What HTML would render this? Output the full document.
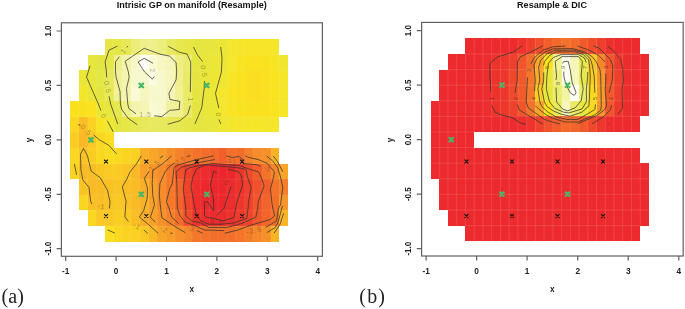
<!DOCTYPE html>
<html><head><meta charset="utf-8"><title>Figure</title>
<style>html,body{margin:0;padding:0;background:#fff}svg{display:block;filter:blur(0.4px)}</style></head>
<body>
<svg width="685" height="309" viewBox="0 0 685 309" font-family="Liberation Sans, sans-serif">
<rect width="685" height="309" fill="#fff"/>
<g shape-rendering="crispEdges"><rect x="104.98" y="39.00" width="8.72" height="15.58" fill="#e6e646"/>
<rect x="113.70" y="39.00" width="8.72" height="15.58" fill="#e6e646"/>
<rect x="122.42" y="39.00" width="8.72" height="15.58" fill="#e8e855"/>
<rect x="131.14" y="39.00" width="8.72" height="15.58" fill="#ecec78"/>
<rect x="139.86" y="39.00" width="8.72" height="15.58" fill="#efef8c"/>
<rect x="148.58" y="39.00" width="8.72" height="15.58" fill="#efef8c"/>
<rect x="157.30" y="39.00" width="8.72" height="15.58" fill="#eded7d"/>
<rect x="166.02" y="39.00" width="8.72" height="15.58" fill="#e9e961"/>
<rect x="174.74" y="39.00" width="8.72" height="15.58" fill="#e7e750"/>
<rect x="183.46" y="39.00" width="8.72" height="15.58" fill="#e6e646"/>
<rect x="192.18" y="39.00" width="8.72" height="15.58" fill="#e5e542"/>
<rect x="200.90" y="39.00" width="8.72" height="15.58" fill="#e6e63e"/>
<rect x="209.62" y="39.00" width="8.72" height="15.58" fill="#e8e63a"/>
<rect x="218.34" y="39.00" width="8.72" height="15.58" fill="#ece634"/>
<rect x="227.06" y="39.00" width="8.72" height="15.58" fill="#f2e62e"/>
<rect x="235.78" y="39.00" width="8.72" height="15.58" fill="#f6e629"/>
<rect x="244.50" y="39.00" width="8.72" height="15.58" fill="#f7e528"/>
<rect x="253.22" y="39.00" width="8.72" height="15.58" fill="#f7e528"/>
<rect x="261.94" y="39.00" width="8.72" height="15.58" fill="#f7e528"/>
<rect x="270.66" y="39.00" width="8.72" height="15.58" fill="#f6e629"/>
<rect x="87.54" y="54.58" width="8.72" height="15.58" fill="#e7e63c"/>
<rect x="96.26" y="54.58" width="8.72" height="15.58" fill="#e5e541"/>
<rect x="104.98" y="54.58" width="8.72" height="15.58" fill="#e6e64b"/>
<rect x="113.70" y="54.58" width="8.72" height="15.58" fill="#efef8c"/>
<rect x="122.42" y="54.58" width="8.72" height="15.58" fill="#f3f3aa"/>
<rect x="131.14" y="54.58" width="8.72" height="15.58" fill="#f7f7c8"/>
<rect x="139.86" y="54.58" width="8.72" height="15.58" fill="#fefef8"/>
<rect x="148.58" y="54.58" width="8.72" height="15.58" fill="#f9f9d4"/>
<rect x="157.30" y="54.58" width="8.72" height="15.58" fill="#f7f7c3"/>
<rect x="166.02" y="54.58" width="8.72" height="15.58" fill="#f5f5b9"/>
<rect x="174.74" y="54.58" width="8.72" height="15.58" fill="#eeee82"/>
<rect x="183.46" y="54.58" width="8.72" height="15.58" fill="#ebeb6e"/>
<rect x="192.18" y="54.58" width="8.72" height="15.58" fill="#e5e542"/>
<rect x="200.90" y="54.58" width="8.72" height="15.58" fill="#e8e63a"/>
<rect x="209.62" y="54.58" width="8.72" height="15.58" fill="#ece634"/>
<rect x="218.34" y="54.58" width="8.72" height="15.58" fill="#ece634"/>
<rect x="227.06" y="54.58" width="8.72" height="15.58" fill="#f3e62d"/>
<rect x="235.78" y="54.58" width="8.72" height="15.58" fill="#f8e423"/>
<rect x="244.50" y="54.58" width="8.72" height="15.58" fill="#fae21e"/>
<rect x="253.22" y="54.58" width="8.72" height="15.58" fill="#fae21e"/>
<rect x="261.94" y="54.58" width="8.72" height="15.58" fill="#fae21e"/>
<rect x="270.66" y="54.58" width="8.72" height="15.58" fill="#f8e423"/>
<rect x="279.38" y="54.58" width="8.72" height="15.58" fill="#f0e630"/>
<rect x="78.82" y="70.16" width="8.72" height="15.58" fill="#eae637"/>
<rect x="87.54" y="70.16" width="8.72" height="15.58" fill="#e7e63c"/>
<rect x="96.26" y="70.16" width="8.72" height="15.58" fill="#e6e646"/>
<rect x="104.98" y="70.16" width="8.72" height="15.58" fill="#e8e85a"/>
<rect x="113.70" y="70.16" width="8.72" height="15.58" fill="#f1f196"/>
<rect x="122.42" y="70.16" width="8.72" height="15.58" fill="#f4f4af"/>
<rect x="131.14" y="70.16" width="8.72" height="15.58" fill="#f8f8cd"/>
<rect x="139.86" y="70.16" width="8.72" height="15.58" fill="#f8f8cd"/>
<rect x="148.58" y="70.16" width="8.72" height="15.58" fill="#fbfbe1"/>
<rect x="157.30" y="70.16" width="8.72" height="15.58" fill="#f8f8cd"/>
<rect x="166.02" y="70.16" width="8.72" height="15.58" fill="#f6f6be"/>
<rect x="174.74" y="70.16" width="8.72" height="15.58" fill="#efef8c"/>
<rect x="183.46" y="70.16" width="8.72" height="15.58" fill="#eaea69"/>
<rect x="192.18" y="70.16" width="8.72" height="15.58" fill="#e5e542"/>
<rect x="200.90" y="70.16" width="8.72" height="15.58" fill="#e8e63a"/>
<rect x="209.62" y="70.16" width="8.72" height="15.58" fill="#ece634"/>
<rect x="218.34" y="70.16" width="8.72" height="15.58" fill="#eee632"/>
<rect x="227.06" y="70.16" width="8.72" height="15.58" fill="#f7e528"/>
<rect x="235.78" y="70.16" width="8.72" height="15.58" fill="#f9e320"/>
<rect x="244.50" y="70.16" width="8.72" height="15.58" fill="#fade1f"/>
<rect x="253.22" y="70.16" width="8.72" height="15.58" fill="#fade1f"/>
<rect x="261.94" y="70.16" width="8.72" height="15.58" fill="#fae01e"/>
<rect x="270.66" y="70.16" width="8.72" height="15.58" fill="#f9e320"/>
<rect x="279.38" y="70.16" width="8.72" height="15.58" fill="#f6e62a"/>
<rect x="78.82" y="85.74" width="8.72" height="15.58" fill="#f3e62d"/>
<rect x="87.54" y="85.74" width="8.72" height="15.58" fill="#eae637"/>
<rect x="96.26" y="85.74" width="8.72" height="15.58" fill="#e5e541"/>
<rect x="104.98" y="85.74" width="8.72" height="15.58" fill="#e8e855"/>
<rect x="113.70" y="85.74" width="8.72" height="15.58" fill="#f1f196"/>
<rect x="122.42" y="85.74" width="8.72" height="15.58" fill="#f4f4af"/>
<rect x="131.14" y="85.74" width="8.72" height="15.58" fill="#fafad7"/>
<rect x="139.86" y="85.74" width="8.72" height="15.58" fill="#f6f6be"/>
<rect x="148.58" y="85.74" width="8.72" height="15.58" fill="#f8f8cd"/>
<rect x="157.30" y="85.74" width="8.72" height="15.58" fill="#f8f8cd"/>
<rect x="166.02" y="85.74" width="8.72" height="15.58" fill="#f5f5b9"/>
<rect x="174.74" y="85.74" width="8.72" height="15.58" fill="#f0f094"/>
<rect x="183.46" y="85.74" width="8.72" height="15.58" fill="#eaea64"/>
<rect x="192.18" y="85.74" width="8.72" height="15.58" fill="#e5e542"/>
<rect x="200.90" y="85.74" width="8.72" height="15.58" fill="#e8e63a"/>
<rect x="209.62" y="85.74" width="8.72" height="15.58" fill="#ece634"/>
<rect x="218.34" y="85.74" width="8.72" height="15.58" fill="#f3e62d"/>
<rect x="227.06" y="85.74" width="8.72" height="15.58" fill="#f8e424"/>
<rect x="235.78" y="85.74" width="8.72" height="15.58" fill="#fae21e"/>
<rect x="244.50" y="85.74" width="8.72" height="15.58" fill="#fade1f"/>
<rect x="253.22" y="85.74" width="8.72" height="15.58" fill="#fade1f"/>
<rect x="261.94" y="85.74" width="8.72" height="15.58" fill="#fae01e"/>
<rect x="270.66" y="85.74" width="8.72" height="15.58" fill="#f9e320"/>
<rect x="279.38" y="85.74" width="8.72" height="15.58" fill="#f6e62a"/>
<rect x="70.10" y="101.32" width="8.72" height="15.58" fill="#fae11e"/>
<rect x="78.82" y="101.32" width="8.72" height="15.58" fill="#fae11e"/>
<rect x="87.54" y="101.32" width="8.72" height="15.58" fill="#fae21e"/>
<rect x="96.26" y="101.32" width="8.72" height="15.58" fill="#ebe636"/>
<rect x="104.98" y="101.32" width="8.72" height="15.58" fill="#e6e63e"/>
<rect x="113.70" y="101.32" width="8.72" height="15.58" fill="#e7e750"/>
<rect x="122.42" y="101.32" width="8.72" height="15.58" fill="#efef87"/>
<rect x="131.14" y="101.32" width="8.72" height="15.58" fill="#f4f4af"/>
<rect x="139.86" y="101.32" width="8.72" height="15.58" fill="#f5f5b4"/>
<rect x="148.58" y="101.32" width="8.72" height="15.58" fill="#f9f9d2"/>
<rect x="157.30" y="101.32" width="8.72" height="15.58" fill="#f8f8cd"/>
<rect x="166.02" y="101.32" width="8.72" height="15.58" fill="#f1f19b"/>
<rect x="174.74" y="101.32" width="8.72" height="15.58" fill="#f0f091"/>
<rect x="183.46" y="101.32" width="8.72" height="15.58" fill="#eaea67"/>
<rect x="192.18" y="101.32" width="8.72" height="15.58" fill="#e5e542"/>
<rect x="200.90" y="101.32" width="8.72" height="15.58" fill="#e8e63a"/>
<rect x="209.62" y="101.32" width="8.72" height="15.58" fill="#ece634"/>
<rect x="218.34" y="101.32" width="8.72" height="15.58" fill="#f3e62d"/>
<rect x="227.06" y="101.32" width="8.72" height="15.58" fill="#f8e424"/>
<rect x="235.78" y="101.32" width="8.72" height="15.58" fill="#f9e320"/>
<rect x="244.50" y="101.32" width="8.72" height="15.58" fill="#fae01e"/>
<rect x="253.22" y="101.32" width="8.72" height="15.58" fill="#fae01e"/>
<rect x="261.94" y="101.32" width="8.72" height="15.58" fill="#fae11e"/>
<rect x="270.66" y="101.32" width="8.72" height="15.58" fill="#f9e320"/>
<rect x="279.38" y="101.32" width="8.72" height="15.58" fill="#f6e62a"/>
<rect x="70.10" y="116.90" width="8.72" height="15.58" fill="#fad721"/>
<rect x="78.82" y="116.90" width="8.72" height="15.58" fill="#f9be25"/>
<rect x="87.54" y="116.90" width="8.72" height="15.58" fill="#fad222"/>
<rect x="96.26" y="116.90" width="8.72" height="15.58" fill="#f8e424"/>
<rect x="104.98" y="116.90" width="8.72" height="15.58" fill="#eee632"/>
<rect x="113.70" y="116.90" width="8.72" height="15.58" fill="#e5e541"/>
<rect x="122.42" y="116.90" width="8.72" height="15.58" fill="#e6e646"/>
<rect x="131.14" y="116.90" width="8.72" height="15.58" fill="#e7e750"/>
<rect x="139.86" y="116.90" width="8.72" height="15.58" fill="#e8e85a"/>
<rect x="148.58" y="116.90" width="8.72" height="15.58" fill="#e9e95f"/>
<rect x="157.30" y="116.90" width="8.72" height="15.58" fill="#e9e95f"/>
<rect x="166.02" y="116.90" width="8.72" height="15.58" fill="#e8e85a"/>
<rect x="174.74" y="116.90" width="8.72" height="15.58" fill="#e7e750"/>
<rect x="183.46" y="116.90" width="8.72" height="15.58" fill="#e6e648"/>
<rect x="192.18" y="116.90" width="8.72" height="15.58" fill="#e5e542"/>
<rect x="200.90" y="116.90" width="8.72" height="15.58" fill="#e6e63e"/>
<rect x="209.62" y="116.90" width="8.72" height="15.58" fill="#e8e63a"/>
<rect x="218.34" y="116.90" width="8.72" height="15.58" fill="#eee632"/>
<rect x="227.06" y="116.90" width="8.72" height="15.58" fill="#f3e62d"/>
<rect x="235.78" y="116.90" width="8.72" height="15.58" fill="#f6e62a"/>
<rect x="244.50" y="116.90" width="8.72" height="15.58" fill="#f6e629"/>
<rect x="253.22" y="116.90" width="8.72" height="15.58" fill="#f6e629"/>
<rect x="261.94" y="116.90" width="8.72" height="15.58" fill="#f6e629"/>
<rect x="270.66" y="116.90" width="8.72" height="15.58" fill="#f5e62b"/>
<rect x="70.10" y="132.48" width="8.72" height="15.58" fill="#facd23"/>
<rect x="78.82" y="132.48" width="8.72" height="15.58" fill="#f9b926"/>
<rect x="87.54" y="132.48" width="8.72" height="15.58" fill="#fac824"/>
<rect x="96.26" y="132.48" width="8.72" height="15.58" fill="#fad721"/>
<rect x="104.98" y="132.48" width="8.72" height="15.58" fill="#fade1f"/>
<rect x="70.10" y="148.06" width="8.72" height="15.58" fill="#fad721"/>
<rect x="78.82" y="148.06" width="8.72" height="15.58" fill="#fac325"/>
<rect x="87.54" y="148.06" width="8.72" height="15.58" fill="#facd23"/>
<rect x="96.26" y="148.06" width="8.72" height="15.58" fill="#fad721"/>
<rect x="104.98" y="148.06" width="8.72" height="15.58" fill="#fadc1f"/>
<rect x="113.70" y="148.06" width="8.72" height="15.58" fill="#fada20"/>
<rect x="122.42" y="148.06" width="8.72" height="15.58" fill="#fad421"/>
<rect x="131.14" y="148.06" width="8.72" height="15.58" fill="#fad022"/>
<rect x="139.86" y="148.06" width="8.72" height="15.58" fill="#f8af27"/>
<rect x="148.58" y="148.06" width="8.72" height="15.58" fill="#f8a528"/>
<rect x="157.30" y="148.06" width="8.72" height="15.58" fill="#f79e29"/>
<rect x="166.02" y="148.06" width="8.72" height="15.58" fill="#f68e2a"/>
<rect x="174.74" y="148.06" width="8.72" height="15.58" fill="#f5822a"/>
<rect x="183.46" y="148.06" width="8.72" height="15.58" fill="#f4782a"/>
<rect x="192.18" y="148.06" width="8.72" height="15.58" fill="#f4732a"/>
<rect x="200.90" y="148.06" width="8.72" height="15.58" fill="#f36e2a"/>
<rect x="209.62" y="148.06" width="8.72" height="15.58" fill="#f2692a"/>
<rect x="218.34" y="148.06" width="8.72" height="15.58" fill="#f25f2a"/>
<rect x="227.06" y="148.06" width="8.72" height="15.58" fill="#f3702a"/>
<rect x="235.78" y="148.06" width="8.72" height="15.58" fill="#f36c2a"/>
<rect x="244.50" y="148.06" width="8.72" height="15.58" fill="#f5802a"/>
<rect x="253.22" y="148.06" width="8.72" height="15.58" fill="#f68c2a"/>
<rect x="261.94" y="148.06" width="8.72" height="15.58" fill="#f6912a"/>
<rect x="270.66" y="148.06" width="8.72" height="15.58" fill="#f9b426"/>
<rect x="70.10" y="163.64" width="8.72" height="15.58" fill="#fad222"/>
<rect x="78.82" y="163.64" width="8.72" height="15.58" fill="#f9ba26"/>
<rect x="87.54" y="163.64" width="8.72" height="15.58" fill="#f9be25"/>
<rect x="96.26" y="163.64" width="8.72" height="15.58" fill="#fac624"/>
<rect x="104.98" y="163.64" width="8.72" height="15.58" fill="#facb23"/>
<rect x="113.70" y="163.64" width="8.72" height="15.58" fill="#facb23"/>
<rect x="122.42" y="163.64" width="8.72" height="15.58" fill="#fac424"/>
<rect x="131.14" y="163.64" width="8.72" height="15.58" fill="#f9b926"/>
<rect x="139.86" y="163.64" width="8.72" height="15.58" fill="#f8a029"/>
<rect x="148.58" y="163.64" width="8.72" height="15.58" fill="#f7962a"/>
<rect x="157.30" y="163.64" width="8.72" height="15.58" fill="#f68c2a"/>
<rect x="166.02" y="163.64" width="8.72" height="15.58" fill="#f4782a"/>
<rect x="174.74" y="163.64" width="8.72" height="15.58" fill="#f0502b"/>
<rect x="183.46" y="163.64" width="8.72" height="15.58" fill="#ee3e2c"/>
<rect x="192.18" y="163.64" width="8.72" height="15.58" fill="#ed322c"/>
<rect x="200.90" y="163.64" width="8.72" height="15.58" fill="#ed2a2d"/>
<rect x="209.62" y="163.64" width="8.72" height="15.58" fill="#ec262d"/>
<rect x="218.34" y="163.64" width="8.72" height="15.58" fill="#ec262d"/>
<rect x="227.06" y="163.64" width="8.72" height="15.58" fill="#ec282d"/>
<rect x="235.78" y="163.64" width="8.72" height="15.58" fill="#ee372c"/>
<rect x="244.50" y="163.64" width="8.72" height="15.58" fill="#f04b2b"/>
<rect x="253.22" y="163.64" width="8.72" height="15.58" fill="#f15a2a"/>
<rect x="261.94" y="163.64" width="8.72" height="15.58" fill="#f4732a"/>
<rect x="270.66" y="163.64" width="8.72" height="15.58" fill="#f6872a"/>
<rect x="279.38" y="163.64" width="8.72" height="15.58" fill="#f8a528"/>
<rect x="78.82" y="179.22" width="8.72" height="15.58" fill="#fac325"/>
<rect x="87.54" y="179.22" width="8.72" height="15.58" fill="#f9ba26"/>
<rect x="96.26" y="179.22" width="8.72" height="15.58" fill="#f9bc25"/>
<rect x="104.98" y="179.22" width="8.72" height="15.58" fill="#fac125"/>
<rect x="113.70" y="179.22" width="8.72" height="15.58" fill="#fac524"/>
<rect x="122.42" y="179.22" width="8.72" height="15.58" fill="#f9be25"/>
<rect x="131.14" y="179.22" width="8.72" height="15.58" fill="#f9bc25"/>
<rect x="139.86" y="179.22" width="8.72" height="15.58" fill="#f9b027"/>
<rect x="148.58" y="179.22" width="8.72" height="15.58" fill="#f8a029"/>
<rect x="157.30" y="179.22" width="8.72" height="15.58" fill="#f68c2a"/>
<rect x="166.02" y="179.22" width="8.72" height="15.58" fill="#f4782a"/>
<rect x="174.74" y="179.22" width="8.72" height="15.58" fill="#f2642a"/>
<rect x="183.46" y="179.22" width="8.72" height="15.58" fill="#ef422c"/>
<rect x="192.18" y="179.22" width="8.72" height="15.58" fill="#ed2e2c"/>
<rect x="200.90" y="179.22" width="8.72" height="15.58" fill="#ec282d"/>
<rect x="209.62" y="179.22" width="8.72" height="15.58" fill="#ec282d"/>
<rect x="218.34" y="179.22" width="8.72" height="15.58" fill="#ec282d"/>
<rect x="227.06" y="179.22" width="8.72" height="15.58" fill="#ed2c2d"/>
<rect x="235.78" y="179.22" width="8.72" height="15.58" fill="#ed322c"/>
<rect x="244.50" y="179.22" width="8.72" height="15.58" fill="#ef402c"/>
<rect x="253.22" y="179.22" width="8.72" height="15.58" fill="#f0522b"/>
<rect x="261.94" y="179.22" width="8.72" height="15.58" fill="#f15c2a"/>
<rect x="270.66" y="179.22" width="8.72" height="15.58" fill="#f4732a"/>
<rect x="279.38" y="179.22" width="8.72" height="15.58" fill="#f47d2a"/>
<rect x="78.82" y="194.80" width="8.72" height="15.58" fill="#fad521"/>
<rect x="87.54" y="194.80" width="8.72" height="15.58" fill="#fac125"/>
<rect x="96.26" y="194.80" width="8.72" height="15.58" fill="#f9be25"/>
<rect x="104.98" y="194.80" width="8.72" height="15.58" fill="#fac325"/>
<rect x="113.70" y="194.80" width="8.72" height="15.58" fill="#fac824"/>
<rect x="122.42" y="194.80" width="8.72" height="15.58" fill="#fac225"/>
<rect x="131.14" y="194.80" width="8.72" height="15.58" fill="#f9ba26"/>
<rect x="139.86" y="194.80" width="8.72" height="15.58" fill="#f9b227"/>
<rect x="148.58" y="194.80" width="8.72" height="15.58" fill="#f8a029"/>
<rect x="157.30" y="194.80" width="8.72" height="15.58" fill="#f68c2a"/>
<rect x="166.02" y="194.80" width="8.72" height="15.58" fill="#f4782a"/>
<rect x="174.74" y="194.80" width="8.72" height="15.58" fill="#f2642a"/>
<rect x="183.46" y="194.80" width="8.72" height="15.58" fill="#ef422c"/>
<rect x="192.18" y="194.80" width="8.72" height="15.58" fill="#ed2e2c"/>
<rect x="200.90" y="194.80" width="8.72" height="15.58" fill="#ec282d"/>
<rect x="209.62" y="194.80" width="8.72" height="15.58" fill="#ec282d"/>
<rect x="218.34" y="194.80" width="8.72" height="15.58" fill="#ec282d"/>
<rect x="227.06" y="194.80" width="8.72" height="15.58" fill="#ed2c2d"/>
<rect x="235.78" y="194.80" width="8.72" height="15.58" fill="#ee372c"/>
<rect x="244.50" y="194.80" width="8.72" height="15.58" fill="#ef422c"/>
<rect x="253.22" y="194.80" width="8.72" height="15.58" fill="#f1552b"/>
<rect x="261.94" y="194.80" width="8.72" height="15.58" fill="#f2642a"/>
<rect x="270.66" y="194.80" width="8.72" height="15.58" fill="#f3702a"/>
<rect x="279.38" y="194.80" width="8.72" height="15.58" fill="#f7962a"/>
<rect x="87.54" y="210.38" width="8.72" height="15.58" fill="#fad721"/>
<rect x="96.26" y="210.38" width="8.72" height="15.58" fill="#fac824"/>
<rect x="104.98" y="210.38" width="8.72" height="15.58" fill="#fac824"/>
<rect x="113.70" y="210.38" width="8.72" height="15.58" fill="#facd23"/>
<rect x="122.42" y="210.38" width="8.72" height="15.58" fill="#fac824"/>
<rect x="131.14" y="210.38" width="8.72" height="15.58" fill="#f9be25"/>
<rect x="139.86" y="210.38" width="8.72" height="15.58" fill="#f8af27"/>
<rect x="148.58" y="210.38" width="8.72" height="15.58" fill="#f8a029"/>
<rect x="157.30" y="210.38" width="8.72" height="15.58" fill="#f6912a"/>
<rect x="166.02" y="210.38" width="8.72" height="15.58" fill="#f5822a"/>
<rect x="174.74" y="210.38" width="8.72" height="15.58" fill="#f36e2a"/>
<rect x="183.46" y="210.38" width="8.72" height="15.58" fill="#f04b2b"/>
<rect x="192.18" y="210.38" width="8.72" height="15.58" fill="#ed322c"/>
<rect x="200.90" y="210.38" width="8.72" height="15.58" fill="#ed2c2d"/>
<rect x="209.62" y="210.38" width="8.72" height="15.58" fill="#ed2a2d"/>
<rect x="218.34" y="210.38" width="8.72" height="15.58" fill="#ed2c2d"/>
<rect x="227.06" y="210.38" width="8.72" height="15.58" fill="#ed322c"/>
<rect x="235.78" y="210.38" width="8.72" height="15.58" fill="#ee3a2c"/>
<rect x="244.50" y="210.38" width="8.72" height="15.58" fill="#ef442b"/>
<rect x="253.22" y="210.38" width="8.72" height="15.58" fill="#f1552b"/>
<rect x="261.94" y="210.38" width="8.72" height="15.58" fill="#f2642a"/>
<rect x="270.66" y="210.38" width="8.72" height="15.58" fill="#f3702a"/>
<rect x="279.38" y="210.38" width="8.72" height="15.58" fill="#f9b426"/>
<rect x="104.98" y="225.96" width="8.72" height="15.58" fill="#fade1f"/>
<rect x="113.70" y="225.96" width="8.72" height="15.58" fill="#fad721"/>
<rect x="122.42" y="225.96" width="8.72" height="15.58" fill="#fad222"/>
<rect x="131.14" y="225.96" width="8.72" height="15.58" fill="#fad022"/>
<rect x="139.86" y="225.96" width="8.72" height="15.58" fill="#fac824"/>
<rect x="148.58" y="225.96" width="8.72" height="15.58" fill="#f9b926"/>
<rect x="157.30" y="225.96" width="8.72" height="15.58" fill="#f8a528"/>
<rect x="166.02" y="225.96" width="8.72" height="15.58" fill="#f79b29"/>
<rect x="174.74" y="225.96" width="8.72" height="15.58" fill="#f6912a"/>
<rect x="183.46" y="225.96" width="8.72" height="15.58" fill="#f6872a"/>
<rect x="192.18" y="225.96" width="8.72" height="15.58" fill="#f4782a"/>
<rect x="200.90" y="225.96" width="8.72" height="15.58" fill="#f4732a"/>
<rect x="209.62" y="225.96" width="8.72" height="15.58" fill="#f3702a"/>
<rect x="218.34" y="225.96" width="8.72" height="15.58" fill="#f36e2a"/>
<rect x="227.06" y="225.96" width="8.72" height="15.58" fill="#f3702a"/>
<rect x="235.78" y="225.96" width="8.72" height="15.58" fill="#f4762a"/>
<rect x="244.50" y="225.96" width="8.72" height="15.58" fill="#f47d2a"/>
<rect x="253.22" y="225.96" width="8.72" height="15.58" fill="#f6872a"/>
<rect x="261.94" y="225.96" width="8.72" height="15.58" fill="#f6912a"/>
<rect x="270.66" y="225.96" width="8.72" height="15.58" fill="#f9b426"/></g>
<path d="M113.70 39.00V54.58M122.42 39.00V54.58M131.14 39.00V54.58M139.86 39.00V54.58M148.58 39.00V54.58M157.30 39.00V54.58M166.02 39.00V54.58M174.74 39.00V54.58M183.46 39.00V54.58M192.18 39.00V54.58M200.90 39.00V54.58M209.62 39.00V54.58M218.34 39.00V54.58M227.06 39.00V54.58M235.78 39.00V54.58M244.50 39.00V54.58M253.22 39.00V54.58M261.94 39.00V54.58M270.66 39.00V54.58M96.26 54.58V70.16M104.98 54.58V70.16M113.70 54.58V70.16M122.42 54.58V70.16M131.14 54.58V70.16M139.86 54.58V70.16M148.58 54.58V70.16M157.30 54.58V70.16M166.02 54.58V70.16M174.74 54.58V70.16M183.46 54.58V70.16M192.18 54.58V70.16M200.90 54.58V70.16M209.62 54.58V70.16M218.34 54.58V70.16M227.06 54.58V70.16M235.78 54.58V70.16M244.50 54.58V70.16M253.22 54.58V70.16M261.94 54.58V70.16M270.66 54.58V70.16M279.38 54.58V70.16M87.54 70.16V85.74M96.26 70.16V85.74M104.98 70.16V85.74M113.70 70.16V85.74M122.42 70.16V85.74M131.14 70.16V85.74M139.86 70.16V85.74M148.58 70.16V85.74M157.30 70.16V85.74M166.02 70.16V85.74M174.74 70.16V85.74M183.46 70.16V85.74M192.18 70.16V85.74M200.90 70.16V85.74M209.62 70.16V85.74M218.34 70.16V85.74M227.06 70.16V85.74M235.78 70.16V85.74M244.50 70.16V85.74M253.22 70.16V85.74M261.94 70.16V85.74M270.66 70.16V85.74M279.38 70.16V85.74M87.54 85.74V101.32M96.26 85.74V101.32M104.98 85.74V101.32M113.70 85.74V101.32M122.42 85.74V101.32M131.14 85.74V101.32M139.86 85.74V101.32M148.58 85.74V101.32M157.30 85.74V101.32M166.02 85.74V101.32M174.74 85.74V101.32M183.46 85.74V101.32M192.18 85.74V101.32M200.90 85.74V101.32M209.62 85.74V101.32M218.34 85.74V101.32M227.06 85.74V101.32M235.78 85.74V101.32M244.50 85.74V101.32M253.22 85.74V101.32M261.94 85.74V101.32M270.66 85.74V101.32M279.38 85.74V101.32M78.82 101.32V116.90M87.54 101.32V116.90M96.26 101.32V116.90M104.98 101.32V116.90M113.70 101.32V116.90M122.42 101.32V116.90M131.14 101.32V116.90M139.86 101.32V116.90M148.58 101.32V116.90M157.30 101.32V116.90M166.02 101.32V116.90M174.74 101.32V116.90M183.46 101.32V116.90M192.18 101.32V116.90M200.90 101.32V116.90M209.62 101.32V116.90M218.34 101.32V116.90M227.06 101.32V116.90M235.78 101.32V116.90M244.50 101.32V116.90M253.22 101.32V116.90M261.94 101.32V116.90M270.66 101.32V116.90M279.38 101.32V116.90M78.82 116.90V132.48M87.54 116.90V132.48M96.26 116.90V132.48M104.98 116.90V132.48M113.70 116.90V132.48M122.42 116.90V132.48M131.14 116.90V132.48M139.86 116.90V132.48M148.58 116.90V132.48M157.30 116.90V132.48M166.02 116.90V132.48M174.74 116.90V132.48M183.46 116.90V132.48M192.18 116.90V132.48M200.90 116.90V132.48M209.62 116.90V132.48M218.34 116.90V132.48M227.06 116.90V132.48M235.78 116.90V132.48M244.50 116.90V132.48M253.22 116.90V132.48M261.94 116.90V132.48M270.66 116.90V132.48M78.82 132.48V148.06M87.54 132.48V148.06M96.26 132.48V148.06M104.98 132.48V148.06M78.82 148.06V163.64M87.54 148.06V163.64M96.26 148.06V163.64M104.98 148.06V163.64M113.70 148.06V163.64M122.42 148.06V163.64M131.14 148.06V163.64M139.86 148.06V163.64M148.58 148.06V163.64M157.30 148.06V163.64M166.02 148.06V163.64M174.74 148.06V163.64M183.46 148.06V163.64M192.18 148.06V163.64M200.90 148.06V163.64M209.62 148.06V163.64M218.34 148.06V163.64M227.06 148.06V163.64M235.78 148.06V163.64M244.50 148.06V163.64M253.22 148.06V163.64M261.94 148.06V163.64M270.66 148.06V163.64M78.82 163.64V179.22M87.54 163.64V179.22M96.26 163.64V179.22M104.98 163.64V179.22M113.70 163.64V179.22M122.42 163.64V179.22M131.14 163.64V179.22M139.86 163.64V179.22M148.58 163.64V179.22M157.30 163.64V179.22M166.02 163.64V179.22M174.74 163.64V179.22M183.46 163.64V179.22M192.18 163.64V179.22M200.90 163.64V179.22M209.62 163.64V179.22M218.34 163.64V179.22M227.06 163.64V179.22M235.78 163.64V179.22M244.50 163.64V179.22M253.22 163.64V179.22M261.94 163.64V179.22M270.66 163.64V179.22M279.38 163.64V179.22M87.54 179.22V194.80M96.26 179.22V194.80M104.98 179.22V194.80M113.70 179.22V194.80M122.42 179.22V194.80M131.14 179.22V194.80M139.86 179.22V194.80M148.58 179.22V194.80M157.30 179.22V194.80M166.02 179.22V194.80M174.74 179.22V194.80M183.46 179.22V194.80M192.18 179.22V194.80M200.90 179.22V194.80M209.62 179.22V194.80M218.34 179.22V194.80M227.06 179.22V194.80M235.78 179.22V194.80M244.50 179.22V194.80M253.22 179.22V194.80M261.94 179.22V194.80M270.66 179.22V194.80M279.38 179.22V194.80M87.54 194.80V210.38M96.26 194.80V210.38M104.98 194.80V210.38M113.70 194.80V210.38M122.42 194.80V210.38M131.14 194.80V210.38M139.86 194.80V210.38M148.58 194.80V210.38M157.30 194.80V210.38M166.02 194.80V210.38M174.74 194.80V210.38M183.46 194.80V210.38M192.18 194.80V210.38M200.90 194.80V210.38M209.62 194.80V210.38M218.34 194.80V210.38M227.06 194.80V210.38M235.78 194.80V210.38M244.50 194.80V210.38M253.22 194.80V210.38M261.94 194.80V210.38M270.66 194.80V210.38M279.38 194.80V210.38M96.26 210.38V225.96M104.98 210.38V225.96M113.70 210.38V225.96M122.42 210.38V225.96M131.14 210.38V225.96M139.86 210.38V225.96M148.58 210.38V225.96M157.30 210.38V225.96M166.02 210.38V225.96M174.74 210.38V225.96M183.46 210.38V225.96M192.18 210.38V225.96M200.90 210.38V225.96M209.62 210.38V225.96M218.34 210.38V225.96M227.06 210.38V225.96M235.78 210.38V225.96M244.50 210.38V225.96M253.22 210.38V225.96M261.94 210.38V225.96M270.66 210.38V225.96M279.38 210.38V225.96M113.70 225.96V241.54M122.42 225.96V241.54M131.14 225.96V241.54M139.86 225.96V241.54M148.58 225.96V241.54M157.30 225.96V241.54M166.02 225.96V241.54M174.74 225.96V241.54M183.46 225.96V241.54M192.18 225.96V241.54M200.90 225.96V241.54M209.62 225.96V241.54M218.34 225.96V241.54M227.06 225.96V241.54M235.78 225.96V241.54M244.50 225.96V241.54M253.22 225.96V241.54M261.94 225.96V241.54M270.66 225.96V241.54M104.98 54.58H279.38M87.54 70.16H288.10M78.82 85.74H288.10M78.82 101.32H288.10M70.10 116.90H279.38M70.10 132.48H113.70M70.10 148.06H113.70M70.10 163.64H279.38M78.82 179.22H288.10M78.82 194.80H288.10M87.54 210.38H288.10M104.98 225.96H279.38" stroke="#fff" stroke-opacity="0.13" stroke-width="0.6" fill="none"/>
<g><path d="M90.0 65.8L86.6 77.2L92.8 91.4L98.4 104.0L100.9 110.5" stroke="#34342a" stroke-width="0.85" fill="none" stroke-linejoin="round" stroke-opacity="0.9"/>
<text x="104.0" y="115.9" font-size="7" fill="#2a2a10" fill-opacity="0.38" letter-spacing="1.0" text-anchor="middle" transform="rotate(50 103.5 115.9)" dy="2.4">0</text>
<path d="M107.4 120.8L113.2 131.8" stroke="#34342a" stroke-width="0.85" fill="none" stroke-linejoin="round" stroke-opacity="0.9"/>
<path d="M117.4 46.1L109.0 50.2L105.1 61.9L106.4 72.0L106.7 77.4" stroke="#34342a" stroke-width="0.85" fill="none" stroke-linejoin="round" stroke-opacity="0.9"/>
<text x="107.9" y="86.9" font-size="7" fill="#2a2a10" fill-opacity="0.38" letter-spacing="1.0" text-anchor="middle" transform="rotate(80 107.4 86.9)" dy="2.4">0.5</text>
<path d="M109.0 96.3L110.6 104.0L117.8 124.1" stroke="#34342a" stroke-width="0.85" fill="none" stroke-linejoin="round" stroke-opacity="0.9"/>
<path d="M126.5 47.4L128.0 46.1" stroke="#34342a" stroke-width="0.85" fill="none" stroke-linejoin="round" stroke-opacity="0.9"/>
<text x="123.7" y="51.3" font-size="7" fill="#2a2a10" fill-opacity="0.38" letter-spacing="1.0" text-anchor="middle" transform="rotate(-50 123.2 51.3)" dy="2.4">1</text>
<path d="M119.4 56.7L115.5 61.9L115.5 72.0L116.1 77.2L120.0 91.4L120.4 104.0L121.6 109.2L128.1 118.2L137.2 124.7" stroke="#34342a" stroke-width="0.85" fill="none" stroke-linejoin="round" stroke-opacity="0.9"/>
<path d="M154.1 115.8L161.9 116.6L169.6 110.4L179.3 109.5L179.8 101.4L170.0 99.5L168.9 93.4L176.1 79.8L176.7 72.0L176.1 62.5L169.6 56.1L160.0 54.2L144.2 48.3L125.2 61.2L128.4 72.0L129.1 77.2L126.5 88.8L127.8 104.0L128.8 108.5L135.9 113.7" stroke="#34342a" stroke-width="0.85" fill="none" stroke-linejoin="round" stroke-opacity="0.9"/>
<text x="145.5" y="115.0" font-size="7" fill="#2a2a10" fill-opacity="0.38" letter-spacing="1.0" text-anchor="middle" transform="rotate(0 145.0 115.0)" dy="2.4">1.5</text>
<path d="M153.0 63.2L144.2 58.3L138.1 61.9L144.6 72.0L152.4 79.1L154.3 76.5" stroke="#34342a" stroke-width="0.85" fill="none" stroke-linejoin="round" stroke-opacity="0.9"/>
<text x="153.1" y="70.3" font-size="7" fill="#2a2a10" fill-opacity="0.38" letter-spacing="1.0" text-anchor="middle" transform="rotate(75 152.6 70.3)" dy="2.4">2</text>
<path d="M168.3 46.4L179.3 52.2L187.1 54.1L190.7 61.9L190.7 72.0L190.3 92.1" stroke="#34342a" stroke-width="0.85" fill="none" stroke-linejoin="round" stroke-opacity="0.9"/>
<text x="190.8" y="99.2" font-size="7" fill="#2a2a10" fill-opacity="0.38" letter-spacing="1.0" text-anchor="middle" transform="rotate(90 190.3 99.2)" dy="2.4">1</text>
<path d="M190.3 105.6L187.8 114.2L180.0 120.7L167.7 124.3" stroke="#34342a" stroke-width="0.85" fill="none" stroke-linejoin="round" stroke-opacity="0.9"/>
<path d="M193.5 47.0L197.4 54.8L202.6 61.6" stroke="#34342a" stroke-width="0.85" fill="none" stroke-linejoin="round" stroke-opacity="0.9"/>
<text x="204.4" y="71.0" font-size="7" fill="#2a2a10" fill-opacity="0.38" letter-spacing="1.0" text-anchor="middle" transform="rotate(80 203.9 71.0)" dy="2.4">0.5</text>
<path d="M204.5 81.1L204.1 88.8L201.9 106.9L200.7 110.4L194.9 123.9" stroke="#34342a" stroke-width="0.85" fill="none" stroke-linejoin="round" stroke-opacity="0.9"/>
<path d="M220.7 47.0L222.0 58.0L221.4 72.0L215.5 93.4L218.8 108.2" stroke="#34342a" stroke-width="0.85" fill="none" stroke-linejoin="round" stroke-opacity="0.9"/>
<text x="219.3" y="114.5" font-size="7" fill="#2a2a10" fill-opacity="0.38" letter-spacing="1.0" text-anchor="middle" transform="rotate(90 218.8 114.5)" dy="2.4">0</text>
<path d="M218.8 119.4L220.8 123.9" stroke="#34342a" stroke-width="0.85" fill="none" stroke-linejoin="round" stroke-opacity="0.9"/>
<path d="M78.3 124.0L80.2 126.0" stroke="#34342a" stroke-width="0.85" fill="none" stroke-linejoin="round" stroke-opacity="0.9"/>
<text x="85.3" y="128.6" font-size="7" fill="#2a2a10" fill-opacity="0.38" letter-spacing="1.0" text-anchor="middle" transform="rotate(45 84.8 128.6)" dy="2.4">-0.5</text>
<path d="M93.8 135.1L99.6 140.0L108.7 145.2L116.7 154.0" stroke="#34342a" stroke-width="0.85" fill="none" stroke-linejoin="round" stroke-opacity="0.9"/>
<path d="M91.9 204.1L90.6 201.1L89.0 187.5L82.8 179.8L80.9 169.8L80.5 154.2L83.5 148.4L87.4 155.5L91.2 171.1L100.3 177.8L107.4 190.1L110.0 201.8L109.4 208.5" stroke="#34342a" stroke-width="0.85" fill="none" stroke-linejoin="round" stroke-opacity="0.9"/>
<text x="101.4" y="206.5" font-size="7" fill="#2a2a10" fill-opacity="0.38" letter-spacing="1.0" text-anchor="middle" transform="rotate(10 100.9 206.5)" dy="2.4">-1</text>
<path d="M74.4 163.9L76.6 174.9" stroke="#34342a" stroke-width="0.85" fill="none" stroke-linejoin="round" stroke-opacity="0.9"/>
<path d="M141.3 155.8L136.5 163.9L130.1 171.7L126.8 179.1L122.3 186.9L126.2 201.8L125.8 204.0L124.9 216.9L128.4 221.5" stroke="#34342a" stroke-width="0.85" fill="none" stroke-linejoin="round" stroke-opacity="0.9"/>
<text x="137.3" y="226.0" font-size="7" fill="#2a2a10" fill-opacity="0.38" letter-spacing="1.0" text-anchor="middle" transform="rotate(30 136.8 226.0)" dy="2.4">-1</text>
<path d="M143.9 229.9L147.8 233.5" stroke="#34342a" stroke-width="0.85" fill="none" stroke-linejoin="round" stroke-opacity="0.9"/>
<path d="M107.7 229.9L114.8 233.1" stroke="#34342a" stroke-width="0.85" fill="none" stroke-linejoin="round" stroke-opacity="0.9"/>
<path d="M163.2 155.9L159.9 158.0" stroke="#34342a" stroke-width="0.85" fill="none" stroke-linejoin="round" stroke-opacity="0.9"/>
<text x="153.7" y="166.8" font-size="7" fill="#2a2a10" fill-opacity="0.38" letter-spacing="1.0" text-anchor="middle" transform="rotate(-47 153.2 166.8)" dy="2.4">-1.5</text>
<path d="M149.0 171.5L144.4 178.3L147.3 187.5L147.3 197.9L143.6 210.8L139.3 217.0L148.7 224.8L158.1 233.2" stroke="#34342a" stroke-width="0.85" fill="none" stroke-linejoin="round" stroke-opacity="0.9"/>
<path d="M171.6 155.9L163.8 162.8L152.8 170.5L152.2 183.5L152.8 195.4L154.5 205.0L150.3 217.3L155.5 222.2" stroke="#34342a" stroke-width="0.85" fill="none" stroke-linejoin="round" stroke-opacity="0.9"/>
<text x="164.3" y="229.4" font-size="7" fill="#2a2a10" fill-opacity="0.38" letter-spacing="1.0" text-anchor="middle" transform="rotate(30 163.8 229.4)" dy="2.4">-2</text>
<path d="M170.3 233.2L172.9 233.2" stroke="#34342a" stroke-width="0.85" fill="none" stroke-linejoin="round" stroke-opacity="0.9"/>
<path d="M186.5 156.7L190.4 155.6" stroke="#34342a" stroke-width="0.85" fill="none" stroke-linejoin="round" stroke-opacity="0.9"/>
<text x="179.1" y="160.8" font-size="6" fill="#2a2a10" fill-opacity="0.38" letter-spacing="0.6" text-anchor="middle" transform="rotate(-26 178.8 160.8)" dy="2.4">-2.5</text>
<path d="M174.5 163.0L170.0 166.0L165.1 171.8L159.9 183.5L159.3 195.0L160.6 208.0L161.9 217.7L172.2 224.8L185.2 232.6" stroke="#34342a" stroke-width="0.85" fill="none" stroke-linejoin="round" stroke-opacity="0.9"/>
<path d="M213.6 155.9L196.8 159.5L178.7 164.7L174.2 167.3L172.2 183.5L169.6 188.9L166.4 201.9L169.0 208.0L171.6 217.1L178.7 223.5" stroke="#34342a" stroke-width="0.85" fill="none" stroke-linejoin="round" stroke-opacity="0.9"/>
<text x="190.9" y="228.1" font-size="7" fill="#2a2a10" fill-opacity="0.38" letter-spacing="1.0" text-anchor="middle" transform="rotate(20 190.4 228.1)" dy="2.4">-3</text>
<path d="M196.8 230.6L202.6 233.2" stroke="#34342a" stroke-width="0.85" fill="none" stroke-linejoin="round" stroke-opacity="0.9"/>
<path d="M214.9 159.5L198.1 162.8L181.3 167.3L176.1 171.8L176.8 183.5L177.4 208.0L180.0 215.8L185.2 222.2L192.9 224.8L204.6 230.0L224.0 230.6" stroke="#34342a" stroke-width="0.85" fill="none" stroke-linejoin="round" stroke-opacity="0.9"/>
<path d="M185.8 169.9L183.9 183.5L183.2 188.9L185.8 208.0L185.8 215.8L191.6 220.9L200.7 222.9L208.5 227.4L227.4 227.4L241.6 223.5L255.9 217.1L257.8 208.0L258.2 201.9L264.1 185.7L260.8 176.0L258.2 171.8L251.8 169.9L244.0 167.3L238.8 165.4L225.9 164.7L212.9 163.4L200.0 165.4L190.0 167.5L185.8 169.9" stroke="#34342a" stroke-width="0.85" fill="none" stroke-linejoin="round" stroke-opacity="0.9"/>
<path d="M224.0 166.5L205.9 164.9L196.8 168.6L192.9 176.4L191.0 186.4L193.6 201.9L196.2 214.2L200.7 220.9L208.5 224.2L220.9 224.2L233.9 222.9L246.8 218.4L248.1 208.0L248.5 201.9L251.1 187.6L247.2 176.0L245.9 169.2L236.0 167.5L224.0 166.5" stroke="#34342a" stroke-width="0.85" fill="none" stroke-linejoin="round" stroke-opacity="0.9"/>
<path d="M216.8 173.1L213.6 171.2L210.4 185.1L213.6 199.3L213.6 210.9L207.8 201.9L204.5 201.9L204.5 216.0L205.9 217.1L213.6 218.4L222.9 220.9L233.9 217.7L235.8 208.0L236.9 201.9L242.7 185.1L241.4 176.0L238.8 171.8L227.8 169.2" stroke="#34342a" stroke-width="0.85" fill="none" stroke-linejoin="round" stroke-opacity="0.9"/>
<text x="215.0" y="222.0" font-size="7" fill="#2a2a10" fill-opacity="0.38" letter-spacing="1.0" text-anchor="middle" transform="rotate(5 214.5 222.0)" dy="2.4">-3.5</text>
<path d="M231.1 186.4L227.8 196.7L223.9 208.4L216.8 215.5" stroke="#34342a" stroke-width="0.85" fill="none" stroke-linejoin="round" stroke-opacity="0.9"/>
<text x="225.9" y="181.4" font-size="7" fill="#2a2a10" fill-opacity="0.38" letter-spacing="1.0" text-anchor="middle" transform="rotate(45 225.4 181.4)" dy="2.4">-5</text>
<path d="M226.5 155.9L232.4 157.6L238.8 156.3L243.4 160.2" stroke="#34342a" stroke-width="0.85" fill="none" stroke-linejoin="round" stroke-opacity="0.9"/>
<text x="231.2" y="160.6" font-size="5.5" fill="#2a2a10" fill-opacity="0.38" letter-spacing="0.3" text-anchor="middle" transform="rotate(5 231.0 160.6)" dy="2.4">-3.5</text>
<path d="M245.3 155.9L249.2 157.6L258.2 159.5L267.3 163.4L274.4 171.8L273.8 176.0L270.5 188.9L271.8 201.9L272.7 208.0L274.7 215.8L270.1 219.6L252.0 224.8L237.8 230.0L224.8 233.2" stroke="#34342a" stroke-width="0.85" fill="none" stroke-linejoin="round" stroke-opacity="0.9"/>
<text x="267.6" y="168.2" font-size="5.5" fill="#2a2a10" fill-opacity="0.38" letter-spacing="0.5" text-anchor="middle" transform="rotate(10 267.3 168.2)" dy="2.4">-3</text>
<path d="M242.7 163.4L256.9 164.7L260.5 166.3" stroke="#34342a" stroke-width="0.85" fill="none" stroke-linejoin="round" stroke-opacity="0.9"/>
<path d="M266.6 155.9L272.5 160.8L277.6 167.3L280.5 177.0L282.8 187.6L280.5 205.0L278.5 208.0L276.6 220.9L265.6 227.4" stroke="#34342a" stroke-width="0.85" fill="none" stroke-linejoin="round" stroke-opacity="0.9"/>
<text x="254.4" y="230.6" font-size="7" fill="#2a2a10" fill-opacity="0.38" letter-spacing="1.0" text-anchor="middle" transform="rotate(-12 253.9 230.6)" dy="2.4">-2.5</text>
<path d="M273.1 155.9L277.6 161.5L282.8 171.8" stroke="#34342a" stroke-width="0.85" fill="none" stroke-linejoin="round" stroke-opacity="0.9"/>
<path d="M282.8 205.8L281.8 208.0L278.5 220.9L275.3 227.4L266.9 232.6" stroke="#34342a" stroke-width="0.85" fill="none" stroke-linejoin="round" stroke-opacity="0.9"/>
<path d="M283.7 213.2L279.8 224.8L274.0 233.2" stroke="#34342a" stroke-width="0.85" fill="none" stroke-linejoin="round" stroke-opacity="0.9"/></g>
<path d="M104.4 160.0L107.6 163.2M104.4 163.2L107.6 160.0" stroke="#111" stroke-width="1.1" fill="none" stroke-linecap="round"/>
<path d="M144.7 160.0L147.9 163.2M144.7 163.2L147.9 160.0" stroke="#111" stroke-width="1.1" fill="none" stroke-linecap="round"/>
<path d="M195.1 160.0L198.3 163.2M195.1 163.2L198.3 160.0" stroke="#111" stroke-width="1.1" fill="none" stroke-linecap="round"/>
<path d="M240.5 160.0L243.7 163.2M240.5 163.2L243.7 160.0" stroke="#111" stroke-width="1.1" fill="none" stroke-linecap="round"/>
<path d="M104.4 214.4L107.6 217.6M104.4 217.6L107.6 214.4" stroke="#111" stroke-width="1.1" fill="none" stroke-linecap="round"/>
<path d="M144.7 214.4L147.9 217.6M144.7 217.6L147.9 214.4" stroke="#111" stroke-width="1.1" fill="none" stroke-linecap="round"/>
<path d="M195.1 214.4L198.3 217.6M195.1 217.6L198.3 214.4" stroke="#111" stroke-width="1.1" fill="none" stroke-linecap="round"/>
<path d="M240.5 214.4L243.7 217.6M240.5 217.6L243.7 214.4" stroke="#111" stroke-width="1.1" fill="none" stroke-linecap="round"/>
<path d="M139.5 83.6L143.1 87.2M139.5 87.2L143.1 83.6" stroke="#48b567" stroke-width="2.3" fill="none" stroke-linecap="round"/>
<path d="M205.0 83.6L208.6 87.2M205.0 87.2L208.6 83.6" stroke="#48b567" stroke-width="2.3" fill="none" stroke-linecap="round"/>
<path d="M89.1 138.0L92.7 141.7M89.1 141.7L92.7 138.0" stroke="#48b567" stroke-width="2.3" fill="none" stroke-linecap="round"/>
<path d="M139.5 192.5L143.1 196.1M139.5 196.1L143.1 192.5" stroke="#48b567" stroke-width="2.3" fill="none" stroke-linecap="round"/>
<path d="M205.0 192.5L208.6 196.1M205.0 196.1L208.6 192.5" stroke="#48b567" stroke-width="2.3" fill="none" stroke-linecap="round"/>
<rect x="61.4" y="22.8" width="261.0" height="233.5" fill="none" stroke="#606060" stroke-width="1.2"/>
<text transform="translate(65.7 274.2) scale(0.920 1)" font-size="9" font-weight="bold" text-anchor="middle" fill="#1c1c1c">-1</text>
<text transform="translate(116.1 274.2) scale(0.920 1)" font-size="9" font-weight="bold" text-anchor="middle" fill="#1c1c1c">0</text>
<text transform="translate(166.5 274.2) scale(0.920 1)" font-size="9" font-weight="bold" text-anchor="middle" fill="#1c1c1c">1</text>
<text transform="translate(216.9 274.2) scale(0.920 1)" font-size="9" font-weight="bold" text-anchor="middle" fill="#1c1c1c">2</text>
<text transform="translate(267.3 274.2) scale(0.920 1)" font-size="9" font-weight="bold" text-anchor="middle" fill="#1c1c1c">3</text>
<text transform="translate(317.7 274.2) scale(0.920 1)" font-size="9" font-weight="bold" text-anchor="middle" fill="#1c1c1c">4</text>
<text transform="translate(50.8 31.0) rotate(-90) scale(0.890 1)" font-size="9" font-weight="bold" text-anchor="middle" fill="#1c1c1c">1.0</text>
<text transform="translate(50.8 85.4) rotate(-90) scale(0.890 1)" font-size="9" font-weight="bold" text-anchor="middle" fill="#1c1c1c">0.5</text>
<text transform="translate(50.8 139.8) rotate(-90) scale(0.890 1)" font-size="9" font-weight="bold" text-anchor="middle" fill="#1c1c1c">0.0</text>
<text transform="translate(50.8 194.3) rotate(-90) scale(0.890 1)" font-size="9" font-weight="bold" text-anchor="middle" fill="#1c1c1c">-0.5</text>
<text transform="translate(50.8 248.7) rotate(-90) scale(0.890 1)" font-size="9" font-weight="bold" text-anchor="middle" fill="#1c1c1c">-1.0</text>
<path d="M65.7 256.3v4.6M116.1 256.3v4.6M166.5 256.3v4.6M216.9 256.3v4.6M267.3 256.3v4.6M317.7 256.3v4.6M61.4 31.0h-4.8M61.4 85.4h-4.8M61.4 139.8h-4.8M61.4 194.3h-4.8M61.4 248.7h-4.8" stroke="#606060" stroke-width="1.2" fill="none"/>
<text transform="translate(191.7 291.8) scale(0.920 1)" font-size="9" font-weight="bold" text-anchor="middle" fill="#1c1c1c">x</text>
<text transform="translate(32.2 140.0) rotate(-90) scale(0.890 1)" font-size="9" font-weight="bold" text-anchor="middle" fill="#1c1c1c">y</text>
<text transform="translate(191.7 8.1) scale(0.915 1)" font-size="9.9" font-weight="bold" text-anchor="middle" fill="#111">Intrisic GP on manifold (Resample)</text>
<g shape-rendering="crispEdges"><rect x="465.46" y="38.40" width="8.74" height="15.60" fill="#ed2a2d"/>
<rect x="474.20" y="38.40" width="8.74" height="15.60" fill="#ed2a2d"/>
<rect x="482.94" y="38.40" width="8.74" height="15.60" fill="#ed2a2d"/>
<rect x="491.68" y="38.40" width="8.74" height="15.60" fill="#ed2a2d"/>
<rect x="500.42" y="38.40" width="8.74" height="15.60" fill="#ed2a2d"/>
<rect x="509.16" y="38.40" width="8.74" height="15.60" fill="#ed2d2d"/>
<rect x="517.90" y="38.40" width="8.74" height="15.60" fill="#ee342c"/>
<rect x="526.64" y="38.40" width="8.74" height="15.60" fill="#ee3e2c"/>
<rect x="535.38" y="38.40" width="8.74" height="15.60" fill="#f04e2b"/>
<rect x="544.12" y="38.40" width="8.74" height="15.60" fill="#f15c2a"/>
<rect x="552.86" y="38.40" width="8.74" height="15.60" fill="#f2692a"/>
<rect x="561.60" y="38.40" width="8.74" height="15.60" fill="#f3702a"/>
<rect x="570.34" y="38.40" width="8.74" height="15.60" fill="#f2692a"/>
<rect x="579.08" y="38.40" width="8.74" height="15.60" fill="#f15a2a"/>
<rect x="587.82" y="38.40" width="8.74" height="15.60" fill="#f04b2b"/>
<rect x="596.56" y="38.40" width="8.74" height="15.60" fill="#ee3e2c"/>
<rect x="605.30" y="38.40" width="8.74" height="15.60" fill="#ed322c"/>
<rect x="614.04" y="38.40" width="8.74" height="15.60" fill="#ed2a2d"/>
<rect x="622.78" y="38.40" width="8.74" height="15.60" fill="#ed2a2d"/>
<rect x="631.52" y="38.40" width="8.74" height="15.60" fill="#ed2a2d"/>
<rect x="447.98" y="54.00" width="8.74" height="15.60" fill="#ed2a2d"/>
<rect x="456.72" y="54.00" width="8.74" height="15.60" fill="#ed2a2d"/>
<rect x="465.46" y="54.00" width="8.74" height="15.60" fill="#ed2a2d"/>
<rect x="474.20" y="54.00" width="8.74" height="15.60" fill="#ed2a2d"/>
<rect x="482.94" y="54.00" width="8.74" height="15.60" fill="#ed2c2d"/>
<rect x="491.68" y="54.00" width="8.74" height="15.60" fill="#ed322c"/>
<rect x="500.42" y="54.00" width="8.74" height="15.60" fill="#ee372c"/>
<rect x="509.16" y="54.00" width="8.74" height="15.60" fill="#ee3e2c"/>
<rect x="517.90" y="54.00" width="8.74" height="15.60" fill="#f1552b"/>
<rect x="526.64" y="54.00" width="8.74" height="15.60" fill="#f36e2a"/>
<rect x="535.38" y="54.00" width="8.74" height="15.60" fill="#f8a528"/>
<rect x="544.12" y="54.00" width="8.74" height="15.60" fill="#fae11e"/>
<rect x="552.86" y="54.00" width="8.74" height="15.60" fill="#f1f196"/>
<rect x="561.60" y="54.00" width="8.74" height="15.60" fill="#fdfdf0"/>
<rect x="570.34" y="54.00" width="8.74" height="15.60" fill="#f5f5b9"/>
<rect x="579.08" y="54.00" width="8.74" height="15.60" fill="#e7e750"/>
<rect x="587.82" y="54.00" width="8.74" height="15.60" fill="#fac325"/>
<rect x="596.56" y="54.00" width="8.74" height="15.60" fill="#f6872a"/>
<rect x="605.30" y="54.00" width="8.74" height="15.60" fill="#f1552b"/>
<rect x="614.04" y="54.00" width="8.74" height="15.60" fill="#ee3a2c"/>
<rect x="622.78" y="54.00" width="8.74" height="15.60" fill="#ed2c2d"/>
<rect x="631.52" y="54.00" width="8.74" height="15.60" fill="#ed2a2d"/>
<rect x="640.26" y="54.00" width="8.74" height="15.60" fill="#ed2a2d"/>
<rect x="439.24" y="69.60" width="8.74" height="15.60" fill="#ed2a2d"/>
<rect x="447.98" y="69.60" width="8.74" height="15.60" fill="#ed2a2d"/>
<rect x="456.72" y="69.60" width="8.74" height="15.60" fill="#ed2a2d"/>
<rect x="465.46" y="69.60" width="8.74" height="15.60" fill="#ed2a2d"/>
<rect x="474.20" y="69.60" width="8.74" height="15.60" fill="#ed2a2d"/>
<rect x="482.94" y="69.60" width="8.74" height="15.60" fill="#ed2c2d"/>
<rect x="491.68" y="69.60" width="8.74" height="15.60" fill="#ed322c"/>
<rect x="500.42" y="69.60" width="8.74" height="15.60" fill="#ee372c"/>
<rect x="509.16" y="69.60" width="8.74" height="15.60" fill="#ef482b"/>
<rect x="517.90" y="69.60" width="8.74" height="15.60" fill="#f15a2a"/>
<rect x="526.64" y="69.60" width="8.74" height="15.60" fill="#f4782a"/>
<rect x="535.38" y="69.60" width="8.74" height="15.60" fill="#f8aa28"/>
<rect x="544.12" y="69.60" width="8.74" height="15.60" fill="#e7e63c"/>
<rect x="552.86" y="69.60" width="8.74" height="15.60" fill="#eded7d"/>
<rect x="561.60" y="69.60" width="8.74" height="15.60" fill="#fefef5"/>
<rect x="570.34" y="69.60" width="8.74" height="15.60" fill="#f6f6be"/>
<rect x="579.08" y="69.60" width="8.74" height="15.60" fill="#e7e750"/>
<rect x="587.82" y="69.60" width="8.74" height="15.60" fill="#facd23"/>
<rect x="596.56" y="69.60" width="8.74" height="15.60" fill="#f7962a"/>
<rect x="605.30" y="69.60" width="8.74" height="15.60" fill="#f15a2a"/>
<rect x="614.04" y="69.60" width="8.74" height="15.60" fill="#ee3e2c"/>
<rect x="622.78" y="69.60" width="8.74" height="15.60" fill="#ed2d2d"/>
<rect x="631.52" y="69.60" width="8.74" height="15.60" fill="#ed2a2d"/>
<rect x="640.26" y="69.60" width="8.74" height="15.60" fill="#ed2a2d"/>
<rect x="439.24" y="85.20" width="8.74" height="15.60" fill="#ed2a2d"/>
<rect x="447.98" y="85.20" width="8.74" height="15.60" fill="#ed2a2d"/>
<rect x="456.72" y="85.20" width="8.74" height="15.60" fill="#ed2a2d"/>
<rect x="465.46" y="85.20" width="8.74" height="15.60" fill="#ed2a2d"/>
<rect x="474.20" y="85.20" width="8.74" height="15.60" fill="#ed2a2d"/>
<rect x="482.94" y="85.20" width="8.74" height="15.60" fill="#ed2c2d"/>
<rect x="491.68" y="85.20" width="8.74" height="15.60" fill="#ed322c"/>
<rect x="500.42" y="85.20" width="8.74" height="15.60" fill="#ee372c"/>
<rect x="509.16" y="85.20" width="8.74" height="15.60" fill="#ef482b"/>
<rect x="517.90" y="85.20" width="8.74" height="15.60" fill="#f15a2a"/>
<rect x="526.64" y="85.20" width="8.74" height="15.60" fill="#f4782a"/>
<rect x="535.38" y="85.20" width="8.74" height="15.60" fill="#facd23"/>
<rect x="544.12" y="85.20" width="8.74" height="15.60" fill="#e7e63c"/>
<rect x="552.86" y="85.20" width="8.74" height="15.60" fill="#ebeb6e"/>
<rect x="561.60" y="85.20" width="8.74" height="15.60" fill="#f3f3a5"/>
<rect x="570.34" y="85.20" width="8.74" height="15.60" fill="#fefef5"/>
<rect x="579.08" y="85.20" width="8.74" height="15.60" fill="#ebeb6e"/>
<rect x="587.82" y="85.20" width="8.74" height="15.60" fill="#fad721"/>
<rect x="596.56" y="85.20" width="8.74" height="15.60" fill="#f79b29"/>
<rect x="605.30" y="85.20" width="8.74" height="15.60" fill="#f15a2a"/>
<rect x="614.04" y="85.20" width="8.74" height="15.60" fill="#ee3e2c"/>
<rect x="622.78" y="85.20" width="8.74" height="15.60" fill="#ed2d2d"/>
<rect x="631.52" y="85.20" width="8.74" height="15.60" fill="#ed2a2d"/>
<rect x="640.26" y="85.20" width="8.74" height="15.60" fill="#ed2a2d"/>
<rect x="430.50" y="100.80" width="8.74" height="15.60" fill="#ed2a2d"/>
<rect x="439.24" y="100.80" width="8.74" height="15.60" fill="#ed2a2d"/>
<rect x="447.98" y="100.80" width="8.74" height="15.60" fill="#ed2a2d"/>
<rect x="456.72" y="100.80" width="8.74" height="15.60" fill="#ed2a2d"/>
<rect x="465.46" y="100.80" width="8.74" height="15.60" fill="#ed2a2d"/>
<rect x="474.20" y="100.80" width="8.74" height="15.60" fill="#ed2a2d"/>
<rect x="482.94" y="100.80" width="8.74" height="15.60" fill="#ed2c2d"/>
<rect x="491.68" y="100.80" width="8.74" height="15.60" fill="#ed322c"/>
<rect x="500.42" y="100.80" width="8.74" height="15.60" fill="#ee372c"/>
<rect x="509.16" y="100.80" width="8.74" height="15.60" fill="#ef422c"/>
<rect x="517.90" y="100.80" width="8.74" height="15.60" fill="#f1552b"/>
<rect x="526.64" y="100.80" width="8.74" height="15.60" fill="#f4732a"/>
<rect x="535.38" y="100.80" width="8.74" height="15.60" fill="#f8a528"/>
<rect x="544.12" y="100.80" width="8.74" height="15.60" fill="#fae11e"/>
<rect x="552.86" y="100.80" width="8.74" height="15.60" fill="#e8e85a"/>
<rect x="561.60" y="100.80" width="8.74" height="15.60" fill="#f6f6be"/>
<rect x="570.34" y="100.80" width="8.74" height="15.60" fill="#eaea64"/>
<rect x="579.08" y="100.80" width="8.74" height="15.60" fill="#e7e63c"/>
<rect x="587.82" y="100.80" width="8.74" height="15.60" fill="#fad721"/>
<rect x="596.56" y="100.80" width="8.74" height="15.60" fill="#f7962a"/>
<rect x="605.30" y="100.80" width="8.74" height="15.60" fill="#f1552b"/>
<rect x="614.04" y="100.80" width="8.74" height="15.60" fill="#ee372c"/>
<rect x="622.78" y="100.80" width="8.74" height="15.60" fill="#ed2c2d"/>
<rect x="631.52" y="100.80" width="8.74" height="15.60" fill="#ed2a2d"/>
<rect x="640.26" y="100.80" width="8.74" height="15.60" fill="#ed2a2d"/>
<rect x="430.50" y="116.40" width="8.74" height="15.60" fill="#ed2a2d"/>
<rect x="439.24" y="116.40" width="8.74" height="15.60" fill="#ed2a2d"/>
<rect x="447.98" y="116.40" width="8.74" height="15.60" fill="#ed2a2d"/>
<rect x="456.72" y="116.40" width="8.74" height="15.60" fill="#ed2a2d"/>
<rect x="465.46" y="116.40" width="8.74" height="15.60" fill="#ed2a2d"/>
<rect x="474.20" y="116.40" width="8.74" height="15.60" fill="#ed2a2d"/>
<rect x="482.94" y="116.40" width="8.74" height="15.60" fill="#ed2a2d"/>
<rect x="491.68" y="116.40" width="8.74" height="15.60" fill="#ed2a2d"/>
<rect x="500.42" y="116.40" width="8.74" height="15.60" fill="#ed2a2d"/>
<rect x="509.16" y="116.40" width="8.74" height="15.60" fill="#ed2c2d"/>
<rect x="517.90" y="116.40" width="8.74" height="15.60" fill="#ed2e2c"/>
<rect x="526.64" y="116.40" width="8.74" height="15.60" fill="#ee342c"/>
<rect x="535.38" y="116.40" width="8.74" height="15.60" fill="#ef422c"/>
<rect x="544.12" y="116.40" width="8.74" height="15.60" fill="#f0502b"/>
<rect x="552.86" y="116.40" width="8.74" height="15.60" fill="#f15c2a"/>
<rect x="561.60" y="116.40" width="8.74" height="15.60" fill="#f2692a"/>
<rect x="570.34" y="116.40" width="8.74" height="15.60" fill="#f2642a"/>
<rect x="579.08" y="116.40" width="8.74" height="15.60" fill="#f1582b"/>
<rect x="587.82" y="116.40" width="8.74" height="15.60" fill="#ef482b"/>
<rect x="596.56" y="116.40" width="8.74" height="15.60" fill="#ee372c"/>
<rect x="605.30" y="116.40" width="8.74" height="15.60" fill="#ed2d2d"/>
<rect x="614.04" y="116.40" width="8.74" height="15.60" fill="#ed2a2d"/>
<rect x="622.78" y="116.40" width="8.74" height="15.60" fill="#ed2a2d"/>
<rect x="631.52" y="116.40" width="8.74" height="15.60" fill="#ed2a2d"/>
<rect x="430.50" y="132.00" width="8.74" height="15.60" fill="#ed2a2d"/>
<rect x="439.24" y="132.00" width="8.74" height="15.60" fill="#ed2a2d"/>
<rect x="447.98" y="132.00" width="8.74" height="15.60" fill="#ed2a2d"/>
<rect x="456.72" y="132.00" width="8.74" height="15.60" fill="#ed2a2d"/>
<rect x="465.46" y="132.00" width="8.74" height="15.60" fill="#ed2a2d"/>
<rect x="430.50" y="147.60" width="8.74" height="15.60" fill="#ed2a2d"/>
<rect x="439.24" y="147.60" width="8.74" height="15.60" fill="#ed2a2d"/>
<rect x="447.98" y="147.60" width="8.74" height="15.60" fill="#ed2a2d"/>
<rect x="456.72" y="147.60" width="8.74" height="15.60" fill="#ed2a2d"/>
<rect x="465.46" y="147.60" width="8.74" height="15.60" fill="#ed2a2d"/>
<rect x="474.20" y="147.60" width="8.74" height="15.60" fill="#ed2a2d"/>
<rect x="482.94" y="147.60" width="8.74" height="15.60" fill="#ed2a2d"/>
<rect x="491.68" y="147.60" width="8.74" height="15.60" fill="#ed2a2d"/>
<rect x="500.42" y="147.60" width="8.74" height="15.60" fill="#ed2a2d"/>
<rect x="509.16" y="147.60" width="8.74" height="15.60" fill="#ed2a2d"/>
<rect x="517.90" y="147.60" width="8.74" height="15.60" fill="#ed2a2d"/>
<rect x="526.64" y="147.60" width="8.74" height="15.60" fill="#ed2a2d"/>
<rect x="535.38" y="147.60" width="8.74" height="15.60" fill="#ed2a2d"/>
<rect x="544.12" y="147.60" width="8.74" height="15.60" fill="#ed2a2d"/>
<rect x="552.86" y="147.60" width="8.74" height="15.60" fill="#ed2a2d"/>
<rect x="561.60" y="147.60" width="8.74" height="15.60" fill="#ed2a2d"/>
<rect x="570.34" y="147.60" width="8.74" height="15.60" fill="#ed2a2d"/>
<rect x="579.08" y="147.60" width="8.74" height="15.60" fill="#ed2a2d"/>
<rect x="587.82" y="147.60" width="8.74" height="15.60" fill="#ed2a2d"/>
<rect x="596.56" y="147.60" width="8.74" height="15.60" fill="#ed2a2d"/>
<rect x="605.30" y="147.60" width="8.74" height="15.60" fill="#ed2a2d"/>
<rect x="614.04" y="147.60" width="8.74" height="15.60" fill="#ed2a2d"/>
<rect x="622.78" y="147.60" width="8.74" height="15.60" fill="#ed2a2d"/>
<rect x="631.52" y="147.60" width="8.74" height="15.60" fill="#ed2a2d"/>
<rect x="430.50" y="163.20" width="8.74" height="15.60" fill="#ed2a2d"/>
<rect x="439.24" y="163.20" width="8.74" height="15.60" fill="#ed2a2d"/>
<rect x="447.98" y="163.20" width="8.74" height="15.60" fill="#ed2a2d"/>
<rect x="456.72" y="163.20" width="8.74" height="15.60" fill="#ed2a2d"/>
<rect x="465.46" y="163.20" width="8.74" height="15.60" fill="#ed2a2d"/>
<rect x="474.20" y="163.20" width="8.74" height="15.60" fill="#ed2a2d"/>
<rect x="482.94" y="163.20" width="8.74" height="15.60" fill="#ed2a2d"/>
<rect x="491.68" y="163.20" width="8.74" height="15.60" fill="#ed2a2d"/>
<rect x="500.42" y="163.20" width="8.74" height="15.60" fill="#ed2a2d"/>
<rect x="509.16" y="163.20" width="8.74" height="15.60" fill="#ed2a2d"/>
<rect x="517.90" y="163.20" width="8.74" height="15.60" fill="#ed2a2d"/>
<rect x="526.64" y="163.20" width="8.74" height="15.60" fill="#ed2a2d"/>
<rect x="535.38" y="163.20" width="8.74" height="15.60" fill="#ed2a2d"/>
<rect x="544.12" y="163.20" width="8.74" height="15.60" fill="#ed2a2d"/>
<rect x="552.86" y="163.20" width="8.74" height="15.60" fill="#ed2a2d"/>
<rect x="561.60" y="163.20" width="8.74" height="15.60" fill="#ed2a2d"/>
<rect x="570.34" y="163.20" width="8.74" height="15.60" fill="#ed2a2d"/>
<rect x="579.08" y="163.20" width="8.74" height="15.60" fill="#ed2a2d"/>
<rect x="587.82" y="163.20" width="8.74" height="15.60" fill="#ed2a2d"/>
<rect x="596.56" y="163.20" width="8.74" height="15.60" fill="#ed2a2d"/>
<rect x="605.30" y="163.20" width="8.74" height="15.60" fill="#ed2a2d"/>
<rect x="614.04" y="163.20" width="8.74" height="15.60" fill="#ed2a2d"/>
<rect x="622.78" y="163.20" width="8.74" height="15.60" fill="#ed2a2d"/>
<rect x="631.52" y="163.20" width="8.74" height="15.60" fill="#ed2a2d"/>
<rect x="640.26" y="163.20" width="8.74" height="15.60" fill="#ed2a2d"/>
<rect x="439.24" y="178.80" width="8.74" height="15.60" fill="#ed2a2d"/>
<rect x="447.98" y="178.80" width="8.74" height="15.60" fill="#ed2a2d"/>
<rect x="456.72" y="178.80" width="8.74" height="15.60" fill="#ed2a2d"/>
<rect x="465.46" y="178.80" width="8.74" height="15.60" fill="#ed2a2d"/>
<rect x="474.20" y="178.80" width="8.74" height="15.60" fill="#ed2a2d"/>
<rect x="482.94" y="178.80" width="8.74" height="15.60" fill="#ed2a2d"/>
<rect x="491.68" y="178.80" width="8.74" height="15.60" fill="#ed2a2d"/>
<rect x="500.42" y="178.80" width="8.74" height="15.60" fill="#ed2a2d"/>
<rect x="509.16" y="178.80" width="8.74" height="15.60" fill="#ed2a2d"/>
<rect x="517.90" y="178.80" width="8.74" height="15.60" fill="#ed2a2d"/>
<rect x="526.64" y="178.80" width="8.74" height="15.60" fill="#ed2a2d"/>
<rect x="535.38" y="178.80" width="8.74" height="15.60" fill="#ed2a2d"/>
<rect x="544.12" y="178.80" width="8.74" height="15.60" fill="#ed2a2d"/>
<rect x="552.86" y="178.80" width="8.74" height="15.60" fill="#ed2a2d"/>
<rect x="561.60" y="178.80" width="8.74" height="15.60" fill="#ed2a2d"/>
<rect x="570.34" y="178.80" width="8.74" height="15.60" fill="#ed2a2d"/>
<rect x="579.08" y="178.80" width="8.74" height="15.60" fill="#ed2a2d"/>
<rect x="587.82" y="178.80" width="8.74" height="15.60" fill="#ed2a2d"/>
<rect x="596.56" y="178.80" width="8.74" height="15.60" fill="#ed2a2d"/>
<rect x="605.30" y="178.80" width="8.74" height="15.60" fill="#ed2a2d"/>
<rect x="614.04" y="178.80" width="8.74" height="15.60" fill="#ed2a2d"/>
<rect x="622.78" y="178.80" width="8.74" height="15.60" fill="#ed2a2d"/>
<rect x="631.52" y="178.80" width="8.74" height="15.60" fill="#ed2a2d"/>
<rect x="640.26" y="178.80" width="8.74" height="15.60" fill="#ed2a2d"/>
<rect x="439.24" y="194.40" width="8.74" height="15.60" fill="#ed2a2d"/>
<rect x="447.98" y="194.40" width="8.74" height="15.60" fill="#ed2a2d"/>
<rect x="456.72" y="194.40" width="8.74" height="15.60" fill="#ed2a2d"/>
<rect x="465.46" y="194.40" width="8.74" height="15.60" fill="#ed2a2d"/>
<rect x="474.20" y="194.40" width="8.74" height="15.60" fill="#ed2a2d"/>
<rect x="482.94" y="194.40" width="8.74" height="15.60" fill="#ed2a2d"/>
<rect x="491.68" y="194.40" width="8.74" height="15.60" fill="#ed2a2d"/>
<rect x="500.42" y="194.40" width="8.74" height="15.60" fill="#ed2a2d"/>
<rect x="509.16" y="194.40" width="8.74" height="15.60" fill="#ed2a2d"/>
<rect x="517.90" y="194.40" width="8.74" height="15.60" fill="#ed2a2d"/>
<rect x="526.64" y="194.40" width="8.74" height="15.60" fill="#ed2a2d"/>
<rect x="535.38" y="194.40" width="8.74" height="15.60" fill="#ed2a2d"/>
<rect x="544.12" y="194.40" width="8.74" height="15.60" fill="#ed2a2d"/>
<rect x="552.86" y="194.40" width="8.74" height="15.60" fill="#ed2a2d"/>
<rect x="561.60" y="194.40" width="8.74" height="15.60" fill="#ed2a2d"/>
<rect x="570.34" y="194.40" width="8.74" height="15.60" fill="#ed2a2d"/>
<rect x="579.08" y="194.40" width="8.74" height="15.60" fill="#ed2a2d"/>
<rect x="587.82" y="194.40" width="8.74" height="15.60" fill="#ed2a2d"/>
<rect x="596.56" y="194.40" width="8.74" height="15.60" fill="#ed2a2d"/>
<rect x="605.30" y="194.40" width="8.74" height="15.60" fill="#ed2a2d"/>
<rect x="614.04" y="194.40" width="8.74" height="15.60" fill="#ed2a2d"/>
<rect x="622.78" y="194.40" width="8.74" height="15.60" fill="#ed2a2d"/>
<rect x="631.52" y="194.40" width="8.74" height="15.60" fill="#ed2a2d"/>
<rect x="640.26" y="194.40" width="8.74" height="15.60" fill="#ed2a2d"/>
<rect x="447.98" y="210.00" width="8.74" height="15.60" fill="#ed2a2d"/>
<rect x="456.72" y="210.00" width="8.74" height="15.60" fill="#ed2a2d"/>
<rect x="465.46" y="210.00" width="8.74" height="15.60" fill="#ed2a2d"/>
<rect x="474.20" y="210.00" width="8.74" height="15.60" fill="#ed2a2d"/>
<rect x="482.94" y="210.00" width="8.74" height="15.60" fill="#ed2a2d"/>
<rect x="491.68" y="210.00" width="8.74" height="15.60" fill="#ed2a2d"/>
<rect x="500.42" y="210.00" width="8.74" height="15.60" fill="#ed2a2d"/>
<rect x="509.16" y="210.00" width="8.74" height="15.60" fill="#ed2a2d"/>
<rect x="517.90" y="210.00" width="8.74" height="15.60" fill="#ed2a2d"/>
<rect x="526.64" y="210.00" width="8.74" height="15.60" fill="#ed2a2d"/>
<rect x="535.38" y="210.00" width="8.74" height="15.60" fill="#ed2a2d"/>
<rect x="544.12" y="210.00" width="8.74" height="15.60" fill="#ed2a2d"/>
<rect x="552.86" y="210.00" width="8.74" height="15.60" fill="#ed2a2d"/>
<rect x="561.60" y="210.00" width="8.74" height="15.60" fill="#ed2a2d"/>
<rect x="570.34" y="210.00" width="8.74" height="15.60" fill="#ed2a2d"/>
<rect x="579.08" y="210.00" width="8.74" height="15.60" fill="#ed2a2d"/>
<rect x="587.82" y="210.00" width="8.74" height="15.60" fill="#ed2a2d"/>
<rect x="596.56" y="210.00" width="8.74" height="15.60" fill="#ed2a2d"/>
<rect x="605.30" y="210.00" width="8.74" height="15.60" fill="#ed2a2d"/>
<rect x="614.04" y="210.00" width="8.74" height="15.60" fill="#ed2a2d"/>
<rect x="622.78" y="210.00" width="8.74" height="15.60" fill="#ed2a2d"/>
<rect x="631.52" y="210.00" width="8.74" height="15.60" fill="#ed2a2d"/>
<rect x="640.26" y="210.00" width="8.74" height="15.60" fill="#ed2a2d"/>
<rect x="465.46" y="225.60" width="8.74" height="15.60" fill="#ed2a2d"/>
<rect x="474.20" y="225.60" width="8.74" height="15.60" fill="#ed2a2d"/>
<rect x="482.94" y="225.60" width="8.74" height="15.60" fill="#ed2a2d"/>
<rect x="491.68" y="225.60" width="8.74" height="15.60" fill="#ed2a2d"/>
<rect x="500.42" y="225.60" width="8.74" height="15.60" fill="#ed2a2d"/>
<rect x="509.16" y="225.60" width="8.74" height="15.60" fill="#ed2a2d"/>
<rect x="517.90" y="225.60" width="8.74" height="15.60" fill="#ed2a2d"/>
<rect x="526.64" y="225.60" width="8.74" height="15.60" fill="#ed2a2d"/>
<rect x="535.38" y="225.60" width="8.74" height="15.60" fill="#ed2a2d"/>
<rect x="544.12" y="225.60" width="8.74" height="15.60" fill="#ed2a2d"/>
<rect x="552.86" y="225.60" width="8.74" height="15.60" fill="#ed2a2d"/>
<rect x="561.60" y="225.60" width="8.74" height="15.60" fill="#ed2a2d"/>
<rect x="570.34" y="225.60" width="8.74" height="15.60" fill="#ed2a2d"/>
<rect x="579.08" y="225.60" width="8.74" height="15.60" fill="#ed2a2d"/>
<rect x="587.82" y="225.60" width="8.74" height="15.60" fill="#ed2a2d"/>
<rect x="596.56" y="225.60" width="8.74" height="15.60" fill="#ed2a2d"/>
<rect x="605.30" y="225.60" width="8.74" height="15.60" fill="#ed2a2d"/>
<rect x="614.04" y="225.60" width="8.74" height="15.60" fill="#ed2a2d"/>
<rect x="622.78" y="225.60" width="8.74" height="15.60" fill="#ed2a2d"/>
<rect x="631.52" y="225.60" width="8.74" height="15.60" fill="#ed2a2d"/></g>
<path d="M474.20 38.40V54.00M482.94 38.40V54.00M491.68 38.40V54.00M500.42 38.40V54.00M509.16 38.40V54.00M517.90 38.40V54.00M526.64 38.40V54.00M535.38 38.40V54.00M544.12 38.40V54.00M552.86 38.40V54.00M561.60 38.40V54.00M570.34 38.40V54.00M579.08 38.40V54.00M587.82 38.40V54.00M596.56 38.40V54.00M605.30 38.40V54.00M614.04 38.40V54.00M622.78 38.40V54.00M631.52 38.40V54.00M456.72 54.00V69.60M465.46 54.00V69.60M474.20 54.00V69.60M482.94 54.00V69.60M491.68 54.00V69.60M500.42 54.00V69.60M509.16 54.00V69.60M517.90 54.00V69.60M526.64 54.00V69.60M535.38 54.00V69.60M544.12 54.00V69.60M552.86 54.00V69.60M561.60 54.00V69.60M570.34 54.00V69.60M579.08 54.00V69.60M587.82 54.00V69.60M596.56 54.00V69.60M605.30 54.00V69.60M614.04 54.00V69.60M622.78 54.00V69.60M631.52 54.00V69.60M640.26 54.00V69.60M447.98 69.60V85.20M456.72 69.60V85.20M465.46 69.60V85.20M474.20 69.60V85.20M482.94 69.60V85.20M491.68 69.60V85.20M500.42 69.60V85.20M509.16 69.60V85.20M517.90 69.60V85.20M526.64 69.60V85.20M535.38 69.60V85.20M544.12 69.60V85.20M552.86 69.60V85.20M561.60 69.60V85.20M570.34 69.60V85.20M579.08 69.60V85.20M587.82 69.60V85.20M596.56 69.60V85.20M605.30 69.60V85.20M614.04 69.60V85.20M622.78 69.60V85.20M631.52 69.60V85.20M640.26 69.60V85.20M447.98 85.20V100.80M456.72 85.20V100.80M465.46 85.20V100.80M474.20 85.20V100.80M482.94 85.20V100.80M491.68 85.20V100.80M500.42 85.20V100.80M509.16 85.20V100.80M517.90 85.20V100.80M526.64 85.20V100.80M535.38 85.20V100.80M544.12 85.20V100.80M552.86 85.20V100.80M561.60 85.20V100.80M570.34 85.20V100.80M579.08 85.20V100.80M587.82 85.20V100.80M596.56 85.20V100.80M605.30 85.20V100.80M614.04 85.20V100.80M622.78 85.20V100.80M631.52 85.20V100.80M640.26 85.20V100.80M439.24 100.80V116.40M447.98 100.80V116.40M456.72 100.80V116.40M465.46 100.80V116.40M474.20 100.80V116.40M482.94 100.80V116.40M491.68 100.80V116.40M500.42 100.80V116.40M509.16 100.80V116.40M517.90 100.80V116.40M526.64 100.80V116.40M535.38 100.80V116.40M544.12 100.80V116.40M552.86 100.80V116.40M561.60 100.80V116.40M570.34 100.80V116.40M579.08 100.80V116.40M587.82 100.80V116.40M596.56 100.80V116.40M605.30 100.80V116.40M614.04 100.80V116.40M622.78 100.80V116.40M631.52 100.80V116.40M640.26 100.80V116.40M439.24 116.40V132.00M447.98 116.40V132.00M456.72 116.40V132.00M465.46 116.40V132.00M474.20 116.40V132.00M482.94 116.40V132.00M491.68 116.40V132.00M500.42 116.40V132.00M509.16 116.40V132.00M517.90 116.40V132.00M526.64 116.40V132.00M535.38 116.40V132.00M544.12 116.40V132.00M552.86 116.40V132.00M561.60 116.40V132.00M570.34 116.40V132.00M579.08 116.40V132.00M587.82 116.40V132.00M596.56 116.40V132.00M605.30 116.40V132.00M614.04 116.40V132.00M622.78 116.40V132.00M631.52 116.40V132.00M439.24 132.00V147.60M447.98 132.00V147.60M456.72 132.00V147.60M465.46 132.00V147.60M439.24 147.60V163.20M447.98 147.60V163.20M456.72 147.60V163.20M465.46 147.60V163.20M474.20 147.60V163.20M482.94 147.60V163.20M491.68 147.60V163.20M500.42 147.60V163.20M509.16 147.60V163.20M517.90 147.60V163.20M526.64 147.60V163.20M535.38 147.60V163.20M544.12 147.60V163.20M552.86 147.60V163.20M561.60 147.60V163.20M570.34 147.60V163.20M579.08 147.60V163.20M587.82 147.60V163.20M596.56 147.60V163.20M605.30 147.60V163.20M614.04 147.60V163.20M622.78 147.60V163.20M631.52 147.60V163.20M439.24 163.20V178.80M447.98 163.20V178.80M456.72 163.20V178.80M465.46 163.20V178.80M474.20 163.20V178.80M482.94 163.20V178.80M491.68 163.20V178.80M500.42 163.20V178.80M509.16 163.20V178.80M517.90 163.20V178.80M526.64 163.20V178.80M535.38 163.20V178.80M544.12 163.20V178.80M552.86 163.20V178.80M561.60 163.20V178.80M570.34 163.20V178.80M579.08 163.20V178.80M587.82 163.20V178.80M596.56 163.20V178.80M605.30 163.20V178.80M614.04 163.20V178.80M622.78 163.20V178.80M631.52 163.20V178.80M640.26 163.20V178.80M447.98 178.80V194.40M456.72 178.80V194.40M465.46 178.80V194.40M474.20 178.80V194.40M482.94 178.80V194.40M491.68 178.80V194.40M500.42 178.80V194.40M509.16 178.80V194.40M517.90 178.80V194.40M526.64 178.80V194.40M535.38 178.80V194.40M544.12 178.80V194.40M552.86 178.80V194.40M561.60 178.80V194.40M570.34 178.80V194.40M579.08 178.80V194.40M587.82 178.80V194.40M596.56 178.80V194.40M605.30 178.80V194.40M614.04 178.80V194.40M622.78 178.80V194.40M631.52 178.80V194.40M640.26 178.80V194.40M447.98 194.40V210.00M456.72 194.40V210.00M465.46 194.40V210.00M474.20 194.40V210.00M482.94 194.40V210.00M491.68 194.40V210.00M500.42 194.40V210.00M509.16 194.40V210.00M517.90 194.40V210.00M526.64 194.40V210.00M535.38 194.40V210.00M544.12 194.40V210.00M552.86 194.40V210.00M561.60 194.40V210.00M570.34 194.40V210.00M579.08 194.40V210.00M587.82 194.40V210.00M596.56 194.40V210.00M605.30 194.40V210.00M614.04 194.40V210.00M622.78 194.40V210.00M631.52 194.40V210.00M640.26 194.40V210.00M456.72 210.00V225.60M465.46 210.00V225.60M474.20 210.00V225.60M482.94 210.00V225.60M491.68 210.00V225.60M500.42 210.00V225.60M509.16 210.00V225.60M517.90 210.00V225.60M526.64 210.00V225.60M535.38 210.00V225.60M544.12 210.00V225.60M552.86 210.00V225.60M561.60 210.00V225.60M570.34 210.00V225.60M579.08 210.00V225.60M587.82 210.00V225.60M596.56 210.00V225.60M605.30 210.00V225.60M614.04 210.00V225.60M622.78 210.00V225.60M631.52 210.00V225.60M640.26 210.00V225.60M474.20 225.60V241.20M482.94 225.60V241.20M491.68 225.60V241.20M500.42 225.60V241.20M509.16 225.60V241.20M517.90 225.60V241.20M526.64 225.60V241.20M535.38 225.60V241.20M544.12 225.60V241.20M552.86 225.60V241.20M561.60 225.60V241.20M570.34 225.60V241.20M579.08 225.60V241.20M587.82 225.60V241.20M596.56 225.60V241.20M605.30 225.60V241.20M614.04 225.60V241.20M622.78 225.60V241.20M631.52 225.60V241.20M465.46 54.00H640.26M447.98 69.60H649.00M439.24 85.20H649.00M439.24 100.80H649.00M430.50 116.40H640.26M430.50 132.00H474.20M430.50 147.60H474.20M430.50 163.20H640.26M439.24 178.80H649.00M439.24 194.40H649.00M447.98 210.00H649.00M465.46 225.60H640.26" stroke="#fff" stroke-opacity="0.21" stroke-width="0.6" fill="none"/>
<g><path d="M522.4 45.8L512.6 52.3L497.8 56.8L490.0 63.3L490.0 76.0L490.6 91.5" stroke="#34342a" stroke-width="0.85" fill="none" stroke-linejoin="round" stroke-opacity="0.9"/>
<text x="491.2" y="98.6" font-size="6" fill="#2a2a10" fill-opacity="0.6" letter-spacing="0" text-anchor="middle" transform="rotate(-90 491.2 98.6)" dy="2.4">1</text>
<path d="M491.9 105.8L495.2 112.3L502.9 115.5L512.0 117.5L521.1 123.3L526.2 124.3" stroke="#34342a" stroke-width="0.85" fill="none" stroke-linejoin="round" stroke-opacity="0.9"/>
<path d="M607.8 46.2L614.2 51.6L620.7 59.4L622.6 68.5L623.3 80.0L622.0 88.9L622.6 108.4L618.1 114.2" stroke="#34342a" stroke-width="0.85" fill="none" stroke-linejoin="round" stroke-opacity="0.9"/>
<path d="M608.2 123.0L608.9 123.7" stroke="#34342a" stroke-width="0.85" fill="none" stroke-linejoin="round" stroke-opacity="0.9"/>
<path d="M543.1 45.8L528.8 52.9L520.4 56.8L517.4 62.0L517.2 80.0L515.2 92.8" stroke="#34342a" stroke-width="0.85" fill="none" stroke-linejoin="round" stroke-opacity="0.9"/>
<text x="515.9" y="98.6" font-size="6" fill="#2a2a10" fill-opacity="0.6" letter-spacing="0" text-anchor="middle" transform="rotate(-90 515.9 98.6)" dy="2.4">2</text>
<path d="M517.2 104.5L519.1 109.7L526.2 114.2L535.3 119.4L543.1 124.3" stroke="#34342a" stroke-width="0.85" fill="none" stroke-linejoin="round" stroke-opacity="0.9"/>
<path d="M593.5 46.2L598.7 47.8L603.9 52.9L610.4 59.4L612.9 65.9L612.3 80.0L609.1 92.8" stroke="#34342a" stroke-width="0.85" fill="none" stroke-linejoin="round" stroke-opacity="0.9"/>
<text x="610.4" y="98.6" font-size="6" fill="#2a2a10" fill-opacity="0.6" letter-spacing="0" text-anchor="middle" transform="rotate(-90 610.4 98.6)" dy="2.4">2</text>
<path d="M611.6 105.1L610.5 109.7L602.7 117.5L592.0 123.8" stroke="#34342a" stroke-width="0.85" fill="none" stroke-linejoin="round" stroke-opacity="0.9"/>
<path d="M565.4 46.1L553.3 46.7L542.6 50.3L534.0 58.1L530.8 63.9" stroke="#34342a" stroke-width="0.85" fill="none" stroke-linejoin="round" stroke-opacity="0.9"/>
<text x="528.8" y="70.4" font-size="6" fill="#2a2a10" fill-opacity="0.6" letter-spacing="0" text-anchor="middle" transform="rotate(-90 528.8 70.4)" dy="2.4">3</text>
<path d="M527.5 77.5L526.9 88.9L526.2 101.9L528.2 107.8L535.3 112.9L544.4 119.4L552.1 122.0L559.9 123.9" stroke="#34342a" stroke-width="0.85" fill="none" stroke-linejoin="round" stroke-opacity="0.9"/>
<path d="M577.6 46.1L588.3 49.8L598.7 55.5L605.2 62.0" stroke="#34342a" stroke-width="0.85" fill="none" stroke-linejoin="round" stroke-opacity="0.9"/>
<text x="605.2" y="67.2" font-size="6" fill="#2a2a10" fill-opacity="0.6" letter-spacing="0" text-anchor="middle" transform="rotate(-90 605.2 67.2)" dy="2.4">3</text>
<path d="M605.8 73.6L605.8 80.0L605.2 88.9L606.5 105.8L604.7 109.7L596.9 115.5L577.5 123.8" stroke="#34342a" stroke-width="0.85" fill="none" stroke-linejoin="round" stroke-opacity="0.9"/>
<path d="M572.7 48.6L553.3 48.8L544.6 52.2L536.8 58.5L533.9 65.3L535.3 80.0L534.6 91.5" stroke="#34342a" stroke-width="0.85" fill="none" stroke-linejoin="round" stroke-opacity="0.9"/>
<text x="534.0" y="98.6" font-size="6" fill="#2a2a10" fill-opacity="0.6" letter-spacing="0" text-anchor="middle" transform="rotate(-90 534.0 98.6)" dy="2.4">4</text>
<path d="M535.3 105.8L536.6 107.1L544.4 113.6L552.1 118.1L565.1 122.0L578.0 122.0L594.8 114.8L600.7 110.3L601.3 105.8L600.7 76.0L600.0 69.8L596.0 61.4L592.1 56.6L584.4 51.7L572.7 48.6" stroke="#34342a" stroke-width="0.85" fill="none" stroke-linejoin="round" stroke-opacity="0.9"/>
<path d="M594.8 92.8L594.2 76.0L592.1 64.3L590.2 58.5L584.4 53.2L573.7 50.0L554.8 50.3L546.5 54.1L540.7 60.4L538.7 67.2L539.8 80.0L537.9 88.9L539.8 101.9L541.8 106.5L548.2 112.3L556.0 116.8L566.4 119.4L578.0 119.4L587.1 114.2L594.8 109.6L595.5 104.5" stroke="#34342a" stroke-width="0.85" fill="none" stroke-linejoin="round" stroke-opacity="0.9"/>
<text x="594.8" y="98.6" font-size="6" fill="#2a2a10" fill-opacity="0.6" letter-spacing="0" text-anchor="middle" transform="rotate(-90 594.8 98.6)" dy="2.4">5</text>
<path d="M543.6 65.3L544.6 61.4L549.4 55.6L556.2 51.9L574.7 51.7L583.4 54.6L588.7 60.0L589.7 67.2L590.3 76.0L589.6 92.8L589.0 105.8L581.9 112.2L570.2 116.2L561.2 114.2L553.4 111.0L546.9 106.5L544.4 101.9L541.8 88.9L543.7 80.0L543.7 72.5" stroke="#34342a" stroke-width="0.85" fill="none" stroke-linejoin="round" stroke-opacity="0.9"/>
<text x="546.2" y="67.6" font-size="6" fill="#2a2a10" fill-opacity="0.6" letter-spacing="0" text-anchor="middle" transform="rotate(-90 546.2 67.6)" dy="2.4">6</text>
<path d="M587.7 72.0L587.7 76.0L586.4 88.9L586.4 101.9L581.9 109.0L568.9 112.9L563.8 112.2L554.7 108.4L549.5 101.9L546.3 88.9L546.9 76.0L548.4 63.4L553.3 57.5L561.1 54.6L578.5 54.6L584.4 58.0L586.3 62.5" stroke="#34342a" stroke-width="0.85" fill="none" stroke-linejoin="round" stroke-opacity="0.9"/>
<text x="584.6" y="67.4" font-size="6" fill="#2a2a10" fill-opacity="0.6" letter-spacing="0" text-anchor="middle" transform="rotate(-90 584.6 67.4)" dy="2.4">7</text>
<path d="M556.0 79.9L556.6 76.0L555.2 61.4L562.0 56.6L578.5 56.6L582.4 61.4L581.2 76.0L583.2 88.9L581.2 100.6L575.4 107.7L567.6 110.9L562.5 109.0L556.6 101.9L556.0 87.6" stroke="#34342a" stroke-width="0.85" fill="none" stroke-linejoin="round" stroke-opacity="0.9"/>
<text x="557.3" y="83.4" font-size="6" fill="#2a2a10" fill-opacity="0.6" letter-spacing="0" text-anchor="middle" transform="rotate(-90 557.3 83.4)" dy="2.4">8</text>
<path d="M563.8 71.5L563.8 76.0L565.7 83.8L570.2 92.8L574.1 95.4L576.1 92.8L572.2 82.5L570.2 69.8L568.3 61.4L563.8 61.4L562.6 63.5" stroke="#34342a" stroke-width="0.85" fill="none" stroke-linejoin="round" stroke-opacity="0.9"/>
<text x="563.1" y="67.4" font-size="6" fill="#2a2a10" fill-opacity="0.6" letter-spacing="0" text-anchor="middle" transform="rotate(-90 563.1 67.4)" dy="2.4">9</text></g>
<path d="M464.9 159.9L468.1 163.1M464.9 163.1L468.1 159.9" stroke="#111" stroke-width="1.1" fill="none" stroke-linecap="round"/>
<path d="M510.4 159.9L513.6 163.1M510.4 163.1L513.6 159.9" stroke="#111" stroke-width="1.1" fill="none" stroke-linecap="round"/>
<path d="M555.9 159.9L559.1 163.1M555.9 163.1L559.1 159.9" stroke="#111" stroke-width="1.1" fill="none" stroke-linecap="round"/>
<path d="M601.4 159.9L604.6 163.1M601.4 163.1L604.6 159.9" stroke="#111" stroke-width="1.1" fill="none" stroke-linecap="round"/>
<path d="M464.9 214.4L468.1 217.6M464.9 217.6L468.1 214.4" stroke="#111" stroke-width="1.1" fill="none" stroke-linecap="round"/>
<path d="M510.4 214.4L513.6 217.6M510.4 217.6L513.6 214.4" stroke="#111" stroke-width="1.1" fill="none" stroke-linecap="round"/>
<path d="M555.9 214.4L559.1 217.6M555.9 217.6L559.1 214.4" stroke="#111" stroke-width="1.1" fill="none" stroke-linecap="round"/>
<path d="M601.4 214.4L604.6 217.6M601.4 217.6L604.6 214.4" stroke="#111" stroke-width="1.1" fill="none" stroke-linecap="round"/>
<path d="M500.1 83.3L503.7 86.9M500.1 86.9L503.7 83.3" stroke="#48b567" stroke-width="2.3" fill="none" stroke-linecap="round"/>
<path d="M565.8 83.3L569.4 86.9M565.8 86.9L569.4 83.3" stroke="#48b567" stroke-width="2.3" fill="none" stroke-linecap="round"/>
<path d="M449.5 137.8L453.1 141.5M449.5 141.5L453.1 137.8" stroke="#48b567" stroke-width="2.3" fill="none" stroke-linecap="round"/>
<path d="M500.1 192.4L503.7 196.0M500.1 196.0L503.7 192.4" stroke="#48b567" stroke-width="2.3" fill="none" stroke-linecap="round"/>
<path d="M565.8 192.4L569.4 196.0M565.8 196.0L569.4 192.4" stroke="#48b567" stroke-width="2.3" fill="none" stroke-linecap="round"/>
<rect x="421.6" y="22.4" width="261.6" height="233.6" fill="none" stroke="#606060" stroke-width="1.2"/>
<text transform="translate(426.1 274.2) scale(0.920 1)" font-size="9" font-weight="bold" text-anchor="middle" fill="#1c1c1c">-1</text>
<text transform="translate(476.6 274.2) scale(0.920 1)" font-size="9" font-weight="bold" text-anchor="middle" fill="#1c1c1c">0</text>
<text transform="translate(527.1 274.2) scale(0.920 1)" font-size="9" font-weight="bold" text-anchor="middle" fill="#1c1c1c">1</text>
<text transform="translate(577.7 274.2) scale(0.920 1)" font-size="9" font-weight="bold" text-anchor="middle" fill="#1c1c1c">2</text>
<text transform="translate(628.2 274.2) scale(0.920 1)" font-size="9" font-weight="bold" text-anchor="middle" fill="#1c1c1c">3</text>
<text transform="translate(678.8 274.2) scale(0.920 1)" font-size="9" font-weight="bold" text-anchor="middle" fill="#1c1c1c">4</text>
<text transform="translate(411.2 30.6) rotate(-90) scale(0.890 1)" font-size="9" font-weight="bold" text-anchor="middle" fill="#1c1c1c">1.0</text>
<text transform="translate(411.2 85.1) rotate(-90) scale(0.890 1)" font-size="9" font-weight="bold" text-anchor="middle" fill="#1c1c1c">0.5</text>
<text transform="translate(411.2 139.7) rotate(-90) scale(0.890 1)" font-size="9" font-weight="bold" text-anchor="middle" fill="#1c1c1c">0.0</text>
<text transform="translate(411.2 194.2) rotate(-90) scale(0.890 1)" font-size="9" font-weight="bold" text-anchor="middle" fill="#1c1c1c">-0.5</text>
<text transform="translate(411.2 248.7) rotate(-90) scale(0.890 1)" font-size="9" font-weight="bold" text-anchor="middle" fill="#1c1c1c">-1.0</text>
<path d="M426.1 256.0v4.6M476.6 256.0v4.6M527.1 256.0v4.6M577.7 256.0v4.6M628.2 256.0v4.6M678.8 256.0v4.6M421.6 30.6h-4.8M421.6 85.1h-4.8M421.6 139.7h-4.8M421.6 194.2h-4.8M421.6 248.7h-4.8" stroke="#606060" stroke-width="1.2" fill="none"/>
<text transform="translate(552.2 291.8) scale(0.920 1)" font-size="9" font-weight="bold" text-anchor="middle" fill="#1c1c1c">x</text>
<text transform="translate(392.6 140.0) rotate(-90) scale(0.890 1)" font-size="9" font-weight="bold" text-anchor="middle" fill="#1c1c1c">y</text>
<text transform="translate(552.0 8.1) scale(0.915 1)" font-size="9.9" font-weight="bold" text-anchor="middle" fill="#111">Resample &amp; DIC</text>
<text x="1.4" y="302.8" font-family="Liberation Serif, serif" font-size="20" letter-spacing="0.1" fill="#222">(a)</text>
<text x="359.3" y="302.8" font-family="Liberation Serif, serif" font-size="20" letter-spacing="1.2" fill="#222">(b)</text>
</svg>
</body></html>
